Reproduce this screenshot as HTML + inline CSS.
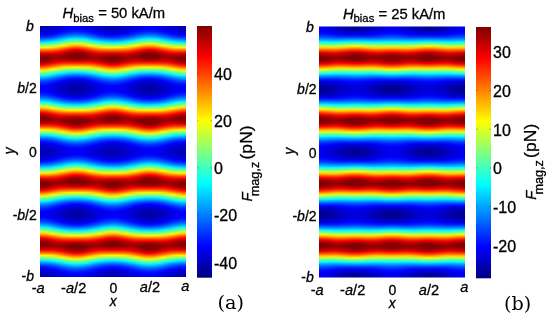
<!DOCTYPE html>
<html><head><meta charset="utf-8"><title>Magnetic force maps</title>
<style>html,body{margin:0;padding:0;background:#fff}svg{display:block}</style></head>
<body>
<svg width="550" height="320" viewBox="0 0 550 320">
<defs><clipPath id="cla"><rect x="40" y="26" width="146" height="251"/></clipPath><linearGradient id="a0" gradientUnits="userSpaceOnUse" x1="0" x2="0" y1="151.5" y2="88.75" spreadMethod="reflect"><stop offset="0" stop-color="#0000b5"/><stop offset=".0312" stop-color="#0000b7"/><stop offset=".0625" stop-color="#0000bf"/><stop offset=".0938" stop-color="#0000cd"/><stop offset=".125" stop-color="#0000e5"/><stop offset=".1562" stop-color="#000aff"/><stop offset=".1875" stop-color="#003dff"/><stop offset=".2188" stop-color="#007eff"/><stop offset=".25" stop-color="#00cfff"/><stop offset=".2812" stop-color="#2fffd0"/><stop offset=".3125" stop-color="#97ff68"/><stop offset=".3438" stop-color="#fffa00"/><stop offset=".375" stop-color="#ff8f00"/><stop offset=".4062" stop-color="#ff2e00"/><stop offset=".4375" stop-color="#da0000"/><stop offset=".4688" stop-color="#9e0000"/><stop offset=".5" stop-color="#800000"/><stop offset=".5312" stop-color="#800000"/><stop offset=".5625" stop-color="#8c0000"/><stop offset=".5938" stop-color="#bc0000"/><stop offset=".625" stop-color="#ff0400"/><stop offset=".6562" stop-color="#ff5b00"/><stop offset=".6875" stop-color="#ffbc00"/><stop offset=".7188" stop-color="#deff21"/><stop offset=".75" stop-color="#7bff84"/><stop offset=".7812" stop-color="#1fffe0"/><stop offset=".8125" stop-color="#00ceff"/><stop offset=".8438" stop-color="#008aff"/><stop offset=".875" stop-color="#0053ff"/><stop offset=".9062" stop-color="#002aff"/><stop offset=".9375" stop-color="#000eff"/><stop offset=".9688" stop-color="#0000fd"/><stop offset="1" stop-color="#0000f7"/></linearGradient><linearGradient id="a1" gradientUnits="userSpaceOnUse" x1="0" x2="0" y1="151.5" y2="88.75" spreadMethod="reflect"><stop offset="0" stop-color="#0000b5"/><stop offset=".0312" stop-color="#0000b7"/><stop offset=".0625" stop-color="#0000bf"/><stop offset=".0938" stop-color="#0000ce"/><stop offset=".125" stop-color="#0000e6"/><stop offset=".1562" stop-color="#000bff"/><stop offset=".1875" stop-color="#003dff"/><stop offset=".2188" stop-color="#007fff"/><stop offset=".25" stop-color="#00d0ff"/><stop offset=".2812" stop-color="#2fffd0"/><stop offset=".3125" stop-color="#97ff68"/><stop offset=".3438" stop-color="#fffa00"/><stop offset=".375" stop-color="#ff8f00"/><stop offset=".4062" stop-color="#ff2e00"/><stop offset=".4375" stop-color="#db0000"/><stop offset=".4688" stop-color="#9e0000"/><stop offset=".5" stop-color="#800000"/><stop offset=".5312" stop-color="#800000"/><stop offset=".5625" stop-color="#8d0000"/><stop offset=".5938" stop-color="#bd0000"/><stop offset=".625" stop-color="#ff0500"/><stop offset=".6562" stop-color="#ff5c00"/><stop offset=".6875" stop-color="#ffbd00"/><stop offset=".7188" stop-color="#df2"/><stop offset=".75" stop-color="#7aff85"/><stop offset=".7812" stop-color="#1fffe0"/><stop offset=".8125" stop-color="#00cdff"/><stop offset=".8438" stop-color="#0089ff"/><stop offset=".875" stop-color="#0053ff"/><stop offset=".9062" stop-color="#002aff"/><stop offset=".9375" stop-color="#000eff"/><stop offset=".9688" stop-color="#0000fc"/><stop offset="1" stop-color="#0000f7"/></linearGradient><linearGradient id="a2" gradientUnits="userSpaceOnUse" x1="0" x2="0" y1="151.5" y2="88.75" spreadMethod="reflect"><stop offset="0" stop-color="#0000b5"/><stop offset=".0312" stop-color="#0000b8"/><stop offset=".0625" stop-color="#0000c0"/><stop offset=".0938" stop-color="#0000ce"/><stop offset=".125" stop-color="#0000e6"/><stop offset=".1562" stop-color="#000bff"/><stop offset=".1875" stop-color="#003eff"/><stop offset=".2188" stop-color="#007fff"/><stop offset=".25" stop-color="#00d0ff"/><stop offset=".2812" stop-color="#30ffcf"/><stop offset=".3125" stop-color="#98ff67"/><stop offset=".3438" stop-color="#fffa00"/><stop offset=".375" stop-color="#ff8f00"/><stop offset=".4062" stop-color="#ff2e00"/><stop offset=".4375" stop-color="#db0000"/><stop offset=".4688" stop-color="#9f0000"/><stop offset=".5" stop-color="#800000"/><stop offset=".5312" stop-color="#800000"/><stop offset=".5625" stop-color="#8e0000"/><stop offset=".5938" stop-color="#bf0000"/><stop offset=".625" stop-color="#ff0700"/><stop offset=".6562" stop-color="#ff5e00"/><stop offset=".6875" stop-color="#ffbf00"/><stop offset=".7188" stop-color="#dbff24"/><stop offset=".75" stop-color="#78ff87"/><stop offset=".7812" stop-color="#1dffe2"/><stop offset=".8125" stop-color="#00cbff"/><stop offset=".8438" stop-color="#08f"/><stop offset=".875" stop-color="#0052ff"/><stop offset=".9062" stop-color="#0029ff"/><stop offset=".9375" stop-color="#000dff"/><stop offset=".9688" stop-color="#0000fc"/><stop offset="1" stop-color="#0000f6"/></linearGradient><linearGradient id="a3" gradientUnits="userSpaceOnUse" x1="0" x2="0" y1="151.5" y2="88.75" spreadMethod="reflect"><stop offset="0" stop-color="#0000b6"/><stop offset=".0312" stop-color="#0000b8"/><stop offset=".0625" stop-color="#0000c0"/><stop offset=".0938" stop-color="#0000cf"/><stop offset=".125" stop-color="#0000e7"/><stop offset=".1562" stop-color="#000cff"/><stop offset=".1875" stop-color="#003fff"/><stop offset=".2188" stop-color="#0081ff"/><stop offset=".25" stop-color="#00d2ff"/><stop offset=".2812" stop-color="#31ffce"/><stop offset=".3125" stop-color="#9f6"/><stop offset=".3438" stop-color="#fff900"/><stop offset=".375" stop-color="#ff8f00"/><stop offset=".4062" stop-color="#ff2e00"/><stop offset=".4375" stop-color="#dc0000"/><stop offset=".4688" stop-color="#a00000"/><stop offset=".5" stop-color="#800000"/><stop offset=".5312" stop-color="#800000"/><stop offset=".5625" stop-color="#910000"/><stop offset=".5938" stop-color="#c20000"/><stop offset=".625" stop-color="#ff0900"/><stop offset=".6562" stop-color="#ff6100"/><stop offset=".6875" stop-color="#ffc200"/><stop offset=".7188" stop-color="#d8ff27"/><stop offset=".75" stop-color="#75ff8a"/><stop offset=".7812" stop-color="#1affe5"/><stop offset=".8125" stop-color="#00c9ff"/><stop offset=".8438" stop-color="#0086ff"/><stop offset=".875" stop-color="#0050ff"/><stop offset=".9062" stop-color="#0028ff"/><stop offset=".9375" stop-color="#000cff"/><stop offset=".9688" stop-color="#0000fb"/><stop offset="1" stop-color="#0000f5"/></linearGradient><linearGradient id="a4" gradientUnits="userSpaceOnUse" x1="0" x2="0" y1="151.5" y2="88.75" spreadMethod="reflect"><stop offset="0" stop-color="#0000b7"/><stop offset=".0312" stop-color="#0000b9"/><stop offset=".0625" stop-color="#0000c1"/><stop offset=".0938" stop-color="#0000d0"/><stop offset=".125" stop-color="#0000e8"/><stop offset=".1562" stop-color="#000eff"/><stop offset=".1875" stop-color="#0040ff"/><stop offset=".2188" stop-color="#0082ff"/><stop offset=".25" stop-color="#00d3ff"/><stop offset=".2812" stop-color="#32ffcd"/><stop offset=".3125" stop-color="#9aff65"/><stop offset=".3438" stop-color="#fff800"/><stop offset=".375" stop-color="#ff8e00"/><stop offset=".4062" stop-color="#ff2e00"/><stop offset=".4375" stop-color="#dc0000"/><stop offset=".4688" stop-color="#a20000"/><stop offset=".5" stop-color="#810000"/><stop offset=".5312" stop-color="#800000"/><stop offset=".5625" stop-color="#940000"/><stop offset=".5938" stop-color="#c50000"/><stop offset=".625" stop-color="#ff0d00"/><stop offset=".6562" stop-color="#ff6400"/><stop offset=".6875" stop-color="#ffc600"/><stop offset=".7188" stop-color="#d4ff2b"/><stop offset=".75" stop-color="#72ff8d"/><stop offset=".7812" stop-color="#17ffe8"/><stop offset=".8125" stop-color="#00c6ff"/><stop offset=".8438" stop-color="#0083ff"/><stop offset=".875" stop-color="#004eff"/><stop offset=".9062" stop-color="#0026ff"/><stop offset=".9375" stop-color="#000bff"/><stop offset=".9688" stop-color="#0000fa"/><stop offset="1" stop-color="#0000f4"/></linearGradient><linearGradient id="a5" gradientUnits="userSpaceOnUse" x1="0" x2="0" y1="151.5" y2="88.75" spreadMethod="reflect"><stop offset="0" stop-color="#0000b8"/><stop offset=".0312" stop-color="#00b"/><stop offset=".0625" stop-color="#0000c2"/><stop offset=".0938" stop-color="#0000d2"/><stop offset=".125" stop-color="#0000ea"/><stop offset=".1562" stop-color="#000fff"/><stop offset=".1875" stop-color="#0042ff"/><stop offset=".2188" stop-color="#0084ff"/><stop offset=".25" stop-color="#00d5ff"/><stop offset=".2812" stop-color="#34ffcb"/><stop offset=".3125" stop-color="#9bff64"/><stop offset=".3438" stop-color="#fff700"/><stop offset=".375" stop-color="#ff8e00"/><stop offset=".4062" stop-color="#ff2e00"/><stop offset=".4375" stop-color="#d00"/><stop offset=".4688" stop-color="#a30000"/><stop offset=".5" stop-color="#830000"/><stop offset=".5312" stop-color="#800000"/><stop offset=".5625" stop-color="#970000"/><stop offset=".5938" stop-color="#c90000"/><stop offset=".625" stop-color="#ff1200"/><stop offset=".6562" stop-color="#ff6900"/><stop offset=".6875" stop-color="#ffca00"/><stop offset=".7188" stop-color="#cfff30"/><stop offset=".75" stop-color="#6eff91"/><stop offset=".7812" stop-color="#13ffec"/><stop offset=".8125" stop-color="#00c3ff"/><stop offset=".8438" stop-color="#0080ff"/><stop offset=".875" stop-color="#004bff"/><stop offset=".9062" stop-color="#0024ff"/><stop offset=".9375" stop-color="#0009ff"/><stop offset=".9688" stop-color="#0000f8"/><stop offset="1" stop-color="#0000f3"/></linearGradient><linearGradient id="a6" gradientUnits="userSpaceOnUse" x1="0" x2="0" y1="151.5" y2="88.75" spreadMethod="reflect"><stop offset="0" stop-color="#0000b9"/><stop offset=".0312" stop-color="#0000bc"/><stop offset=".0625" stop-color="#0000c4"/><stop offset=".0938" stop-color="#0000d3"/><stop offset=".125" stop-color="#0000ec"/><stop offset=".1562" stop-color="#0012ff"/><stop offset=".1875" stop-color="#04f"/><stop offset=".2188" stop-color="#0086ff"/><stop offset=".25" stop-color="#00d7ff"/><stop offset=".2812" stop-color="#36ffc9"/><stop offset=".3125" stop-color="#9dff62"/><stop offset=".3438" stop-color="#fff600"/><stop offset=".375" stop-color="#ff8d00"/><stop offset=".4062" stop-color="#ff2e00"/><stop offset=".4375" stop-color="#de0000"/><stop offset=".4688" stop-color="#a50000"/><stop offset=".5" stop-color="#860000"/><stop offset=".5312" stop-color="#830000"/><stop offset=".5625" stop-color="#9c0000"/><stop offset=".5938" stop-color="#ce0000"/><stop offset=".625" stop-color="#ff1700"/><stop offset=".6562" stop-color="#ff6f00"/><stop offset=".6875" stop-color="#ffd000"/><stop offset=".7188" stop-color="#caff35"/><stop offset=".75" stop-color="#68ff97"/><stop offset=".7812" stop-color="#0ffff0"/><stop offset=".8125" stop-color="#00bfff"/><stop offset=".8438" stop-color="#007dff"/><stop offset=".875" stop-color="#0049ff"/><stop offset=".9062" stop-color="#0021ff"/><stop offset=".9375" stop-color="#0007ff"/><stop offset=".9688" stop-color="#0000f6"/><stop offset="1" stop-color="#0000f1"/></linearGradient><linearGradient id="a7" gradientUnits="userSpaceOnUse" x1="0" x2="0" y1="151.5" y2="88.75" spreadMethod="reflect"><stop offset="0" stop-color="#00b"/><stop offset=".0312" stop-color="#0000bd"/><stop offset=".0625" stop-color="#0000c6"/><stop offset=".0938" stop-color="#0000d5"/><stop offset=".125" stop-color="#00e"/><stop offset=".1562" stop-color="#0014ff"/><stop offset=".1875" stop-color="#0047ff"/><stop offset=".2188" stop-color="#0089ff"/><stop offset=".25" stop-color="#00daff"/><stop offset=".2812" stop-color="#39ffc6"/><stop offset=".3125" stop-color="#9fff60"/><stop offset=".3438" stop-color="#fff400"/><stop offset=".375" stop-color="#ff8c00"/><stop offset=".4062" stop-color="#ff2e00"/><stop offset=".4375" stop-color="#df0000"/><stop offset=".4688" stop-color="#a70000"/><stop offset=".5" stop-color="#890000"/><stop offset=".5312" stop-color="#860000"/><stop offset=".5625" stop-color="#a00000"/><stop offset=".5938" stop-color="#d30000"/><stop offset=".625" stop-color="#ff1d00"/><stop offset=".6562" stop-color="#ff7500"/><stop offset=".6875" stop-color="#ffd600"/><stop offset=".7188" stop-color="#c4ff3b"/><stop offset=".75" stop-color="#63ff9c"/><stop offset=".7812" stop-color="#09fff6"/><stop offset=".8125" stop-color="#00baff"/><stop offset=".8438" stop-color="#0079ff"/><stop offset=".875" stop-color="#0045ff"/><stop offset=".9062" stop-color="#001fff"/><stop offset=".9375" stop-color="#0004ff"/><stop offset=".9688" stop-color="#0000f4"/><stop offset="1" stop-color="#0000ef"/></linearGradient><linearGradient id="a8" gradientUnits="userSpaceOnUse" x1="0" x2="0" y1="151.5" y2="88.75" spreadMethod="reflect"><stop offset="0" stop-color="#0000bd"/><stop offset=".0312" stop-color="#0000bf"/><stop offset=".0625" stop-color="#0000c7"/><stop offset=".0938" stop-color="#0000d7"/><stop offset=".125" stop-color="#0000f0"/><stop offset=".1562" stop-color="#0017ff"/><stop offset=".1875" stop-color="#004aff"/><stop offset=".2188" stop-color="#008cff"/><stop offset=".25" stop-color="#0df"/><stop offset=".2812" stop-color="#3cffc3"/><stop offset=".3125" stop-color="#a2ff5d"/><stop offset=".3438" stop-color="#fff200"/><stop offset=".375" stop-color="#ff8b00"/><stop offset=".4062" stop-color="#ff2e00"/><stop offset=".4375" stop-color="#e00000"/><stop offset=".4688" stop-color="#a80000"/><stop offset=".5" stop-color="#8b0000"/><stop offset=".5312" stop-color="#8a0000"/><stop offset=".5625" stop-color="#a50000"/><stop offset=".5938" stop-color="#d90000"/><stop offset=".625" stop-color="#ff2300"/><stop offset=".6562" stop-color="#ff7c00"/><stop offset=".6875" stop-color="#fd0"/><stop offset=".7188" stop-color="#bdff42"/><stop offset=".75" stop-color="#5cffa3"/><stop offset=".7812" stop-color="#04fffb"/><stop offset=".8125" stop-color="#00b5ff"/><stop offset=".8438" stop-color="#0074ff"/><stop offset=".875" stop-color="#0041ff"/><stop offset=".9062" stop-color="#001cff"/><stop offset=".9375" stop-color="#0002ff"/><stop offset=".9688" stop-color="#0000f2"/><stop offset="1" stop-color="#0000ed"/></linearGradient><linearGradient id="a9" gradientUnits="userSpaceOnUse" x1="0" x2="0" y1="151.5" y2="88.75" spreadMethod="reflect"><stop offset="0" stop-color="#0000be"/><stop offset=".0312" stop-color="#0000c1"/><stop offset=".0625" stop-color="#0000ca"/><stop offset=".0938" stop-color="#0000da"/><stop offset=".125" stop-color="#0000f3"/><stop offset=".1562" stop-color="#001aff"/><stop offset=".1875" stop-color="#004dff"/><stop offset=".2188" stop-color="#0090ff"/><stop offset=".25" stop-color="#00e1ff"/><stop offset=".2812" stop-color="#3fffc0"/><stop offset=".3125" stop-color="#a5ff5a"/><stop offset=".3438" stop-color="#fff000"/><stop offset=".375" stop-color="#ff8900"/><stop offset=".4062" stop-color="#ff2d00"/><stop offset=".4375" stop-color="#e00000"/><stop offset=".4688" stop-color="#a00"/><stop offset=".5" stop-color="#8e0000"/><stop offset=".5312" stop-color="#8f0000"/><stop offset=".5625" stop-color="#a00"/><stop offset=".5938" stop-color="#df0000"/><stop offset=".625" stop-color="#ff2a00"/><stop offset=".6562" stop-color="#ff8300"/><stop offset=".6875" stop-color="#ffe400"/><stop offset=".7188" stop-color="#b6ff49"/><stop offset=".75" stop-color="#56ffa9"/><stop offset=".7812" stop-color="#00fcff"/><stop offset=".8125" stop-color="#00afff"/><stop offset=".8438" stop-color="#0070ff"/><stop offset=".875" stop-color="#003dff"/><stop offset=".9062" stop-color="#0018ff"/><stop offset=".9375" stop-color="#0000fe"/><stop offset=".9688" stop-color="#0000ef"/><stop offset="1" stop-color="#0000eb"/></linearGradient><linearGradient id="a10" gradientUnits="userSpaceOnUse" x1="0" x2="0" y1="151.5" y2="88.75" spreadMethod="reflect"><stop offset="0" stop-color="#0000c0"/><stop offset=".0312" stop-color="#0000c3"/><stop offset=".0625" stop-color="#00c"/><stop offset=".0938" stop-color="#0000dc"/><stop offset=".125" stop-color="#0000f6"/><stop offset=".1562" stop-color="#001dff"/><stop offset=".1875" stop-color="#0051ff"/><stop offset=".2188" stop-color="#0094ff"/><stop offset=".25" stop-color="#00e5ff"/><stop offset=".2812" stop-color="#43ffbc"/><stop offset=".3125" stop-color="#a9ff56"/><stop offset=".3438" stop-color="#ffed00"/><stop offset=".375" stop-color="#ff8700"/><stop offset=".4062" stop-color="#ff2c00"/><stop offset=".4375" stop-color="#e00000"/><stop offset=".4688" stop-color="#ac0000"/><stop offset=".5" stop-color="#910000"/><stop offset=".5312" stop-color="#930000"/><stop offset=".5625" stop-color="#b00000"/><stop offset=".5938" stop-color="#e60000"/><stop offset=".625" stop-color="#ff3100"/><stop offset=".6562" stop-color="#ff8b00"/><stop offset=".6875" stop-color="#ffec00"/><stop offset=".7188" stop-color="#aeff51"/><stop offset=".75" stop-color="#4effb1"/><stop offset=".7812" stop-color="#00f6ff"/><stop offset=".8125" stop-color="#00a9ff"/><stop offset=".8438" stop-color="#006aff"/><stop offset=".875" stop-color="#0039ff"/><stop offset=".9062" stop-color="#0015ff"/><stop offset=".9375" stop-color="#0000fb"/><stop offset=".9688" stop-color="#0000ed"/><stop offset="1" stop-color="#0000e8"/></linearGradient><linearGradient id="a11" gradientUnits="userSpaceOnUse" x1="0" x2="0" y1="151.5" y2="88.75" spreadMethod="reflect"><stop offset="0" stop-color="#0000c2"/><stop offset=".0312" stop-color="#0000c5"/><stop offset=".0625" stop-color="#0000ce"/><stop offset=".0938" stop-color="#0000df"/><stop offset=".125" stop-color="#0000f9"/><stop offset=".1562" stop-color="#0021ff"/><stop offset=".1875" stop-color="#05f"/><stop offset=".2188" stop-color="#0098ff"/><stop offset=".25" stop-color="#00e9ff"/><stop offset=".2812" stop-color="#47ffb8"/><stop offset=".3125" stop-color="#adff52"/><stop offset=".3438" stop-color="#ffe900"/><stop offset=".375" stop-color="#ff8500"/><stop offset=".4062" stop-color="#ff2a00"/><stop offset=".4375" stop-color="#e00000"/><stop offset=".4688" stop-color="#ad0000"/><stop offset=".5" stop-color="#940000"/><stop offset=".5312" stop-color="#970000"/><stop offset=".5625" stop-color="#b50000"/><stop offset=".5938" stop-color="#ec0000"/><stop offset=".625" stop-color="#ff3900"/><stop offset=".6562" stop-color="#ff9200"/><stop offset=".6875" stop-color="#fff400"/><stop offset=".7188" stop-color="#a6ff59"/><stop offset=".75" stop-color="#47ffb8"/><stop offset=".7812" stop-color="#00efff"/><stop offset=".8125" stop-color="#00a3ff"/><stop offset=".8438" stop-color="#0065ff"/><stop offset=".875" stop-color="#0034ff"/><stop offset=".9062" stop-color="#01f"/><stop offset=".9375" stop-color="#0000f8"/><stop offset=".9688" stop-color="#0000ea"/><stop offset="1" stop-color="#0000e5"/></linearGradient><linearGradient id="a12" gradientUnits="userSpaceOnUse" x1="0" x2="0" y1="151.5" y2="88.75" spreadMethod="reflect"><stop offset="0" stop-color="#0000c5"/><stop offset=".0312" stop-color="#0000c8"/><stop offset=".0625" stop-color="#0000d1"/><stop offset=".0938" stop-color="#0000e2"/><stop offset=".125" stop-color="#0000fd"/><stop offset=".1562" stop-color="#0025ff"/><stop offset=".1875" stop-color="#0059ff"/><stop offset=".2188" stop-color="#009dff"/><stop offset=".25" stop-color="#0ef"/><stop offset=".2812" stop-color="#4cffb3"/><stop offset=".3125" stop-color="#b1ff4e"/><stop offset=".3438" stop-color="#ffe500"/><stop offset=".375" stop-color="#ff8200"/><stop offset=".4062" stop-color="#ff2900"/><stop offset=".4375" stop-color="#e00000"/><stop offset=".4688" stop-color="#ae0000"/><stop offset=".5" stop-color="#970000"/><stop offset=".5312" stop-color="#9b0000"/><stop offset=".5625" stop-color="#b00"/><stop offset=".5938" stop-color="#f30000"/><stop offset=".625" stop-color="#ff4000"/><stop offset=".6562" stop-color="#ff9a00"/><stop offset=".6875" stop-color="#fffc00"/><stop offset=".7188" stop-color="#9eff61"/><stop offset=".75" stop-color="#3fffc0"/><stop offset=".7812" stop-color="#00e7ff"/><stop offset=".8125" stop-color="#009dff"/><stop offset=".8438" stop-color="#005fff"/><stop offset=".875" stop-color="#0030ff"/><stop offset=".9062" stop-color="#000dff"/><stop offset=".9375" stop-color="#0000f4"/><stop offset=".9688" stop-color="#0000e7"/><stop offset="1" stop-color="#0000e2"/></linearGradient><linearGradient id="a13" gradientUnits="userSpaceOnUse" x1="0" x2="0" y1="151.5" y2="88.75" spreadMethod="reflect"><stop offset="0" stop-color="#0000c7"/><stop offset=".0312" stop-color="#0000ca"/><stop offset=".0625" stop-color="#0000d4"/><stop offset=".0938" stop-color="#0000e5"/><stop offset=".125" stop-color="#0001ff"/><stop offset=".1562" stop-color="#0029ff"/><stop offset=".1875" stop-color="#005eff"/><stop offset=".2188" stop-color="#00a2ff"/><stop offset=".25" stop-color="#00f4ff"/><stop offset=".2812" stop-color="#52ffad"/><stop offset=".3125" stop-color="#b6ff49"/><stop offset=".3438" stop-color="#ffe100"/><stop offset=".375" stop-color="#ff7e00"/><stop offset=".4062" stop-color="#ff2600"/><stop offset=".4375" stop-color="#df0000"/><stop offset=".4688" stop-color="#af0000"/><stop offset=".5" stop-color="#900"/><stop offset=".5312" stop-color="#9f0000"/><stop offset=".5625" stop-color="#c00000"/><stop offset=".5938" stop-color="#f90000"/><stop offset=".625" stop-color="#ff4700"/><stop offset=".6562" stop-color="#ffa200"/><stop offset=".6875" stop-color="#f9ff06"/><stop offset=".7188" stop-color="#96ff69"/><stop offset=".75" stop-color="#37ffc8"/><stop offset=".7812" stop-color="#00e0ff"/><stop offset=".8125" stop-color="#0096ff"/><stop offset=".8438" stop-color="#005aff"/><stop offset=".875" stop-color="#002bff"/><stop offset=".9062" stop-color="#0008ff"/><stop offset=".9375" stop-color="#0000f0"/><stop offset=".9688" stop-color="#0000e3"/><stop offset="1" stop-color="#0000df"/></linearGradient><linearGradient id="a14" gradientUnits="userSpaceOnUse" x1="0" x2="0" y1="151.5" y2="88.75" spreadMethod="reflect"><stop offset="0" stop-color="#0000ca"/><stop offset=".0312" stop-color="#0000cd"/><stop offset=".0625" stop-color="#0000d6"/><stop offset=".0938" stop-color="#0000e8"/><stop offset=".125" stop-color="#0005ff"/><stop offset=".1562" stop-color="#002eff"/><stop offset=".1875" stop-color="#0063ff"/><stop offset=".2188" stop-color="#00a8ff"/><stop offset=".25" stop-color="#00f9ff"/><stop offset=".2812" stop-color="#58ffa7"/><stop offset=".3125" stop-color="#bcff43"/><stop offset=".3438" stop-color="#ffdc00"/><stop offset=".375" stop-color="#ff7a00"/><stop offset=".4062" stop-color="#ff2300"/><stop offset=".4375" stop-color="#d00"/><stop offset=".4688" stop-color="#af0000"/><stop offset=".5" stop-color="#9b0000"/><stop offset=".5312" stop-color="#a20000"/><stop offset=".5625" stop-color="#c50000"/><stop offset=".5938" stop-color="#ff0100"/><stop offset=".625" stop-color="#ff4f00"/><stop offset=".6562" stop-color="#fa0"/><stop offset=".6875" stop-color="#f1ff0e"/><stop offset=".7188" stop-color="#8dff72"/><stop offset=".75" stop-color="#2fffd0"/><stop offset=".7812" stop-color="#00d8ff"/><stop offset=".8125" stop-color="#008fff"/><stop offset=".8438" stop-color="#0054ff"/><stop offset=".875" stop-color="#0026ff"/><stop offset=".9062" stop-color="#0004ff"/><stop offset=".9375" stop-color="#0000ed"/><stop offset=".9688" stop-color="#0000e0"/><stop offset="1" stop-color="#0000dc"/></linearGradient><linearGradient id="a15" gradientUnits="userSpaceOnUse" x1="0" x2="0" y1="151.5" y2="88.75" spreadMethod="reflect"><stop offset="0" stop-color="#00c"/><stop offset=".0312" stop-color="#0000cf"/><stop offset=".0625" stop-color="#0000d9"/><stop offset=".0938" stop-color="#0000ec"/><stop offset=".125" stop-color="#000aff"/><stop offset=".1562" stop-color="#0032ff"/><stop offset=".1875" stop-color="#0069ff"/><stop offset=".2188" stop-color="#00aeff"/><stop offset=".25" stop-color="#01fffe"/><stop offset=".2812" stop-color="#5effa1"/><stop offset=".3125" stop-color="#c2ff3d"/><stop offset=".3438" stop-color="#ffd600"/><stop offset=".375" stop-color="#ff7500"/><stop offset=".4062" stop-color="#ff2000"/><stop offset=".4375" stop-color="#db0000"/><stop offset=".4688" stop-color="#ae0000"/><stop offset=".5" stop-color="#9c0000"/><stop offset=".5312" stop-color="#a50000"/><stop offset=".5625" stop-color="#c90000"/><stop offset=".5938" stop-color="#ff0600"/><stop offset=".625" stop-color="#ff5600"/><stop offset=".6562" stop-color="#ffb200"/><stop offset=".6875" stop-color="#e9ff16"/><stop offset=".7188" stop-color="#85ff7a"/><stop offset=".75" stop-color="#27ffd8"/><stop offset=".7812" stop-color="#00d1ff"/><stop offset=".8125" stop-color="#08f"/><stop offset=".8438" stop-color="#004eff"/><stop offset=".875" stop-color="#0020ff"/><stop offset=".9062" stop-color="#00f"/><stop offset=".9375" stop-color="#0000e9"/><stop offset=".9688" stop-color="#00d"/><stop offset="1" stop-color="#0000d9"/></linearGradient><linearGradient id="a16" gradientUnits="userSpaceOnUse" x1="0" x2="0" y1="151.5" y2="88.75" spreadMethod="reflect"><stop offset="0" stop-color="#0000cf"/><stop offset=".0312" stop-color="#0000d2"/><stop offset=".0625" stop-color="#0000dc"/><stop offset=".0938" stop-color="#0000ef"/><stop offset=".125" stop-color="#000eff"/><stop offset=".1562" stop-color="#0037ff"/><stop offset=".1875" stop-color="#006fff"/><stop offset=".2188" stop-color="#00b4ff"/><stop offset=".25" stop-color="#07fff8"/><stop offset=".2812" stop-color="#65ff9a"/><stop offset=".3125" stop-color="#c9ff36"/><stop offset=".3438" stop-color="#ffd000"/><stop offset=".375" stop-color="#ff7000"/><stop offset=".4062" stop-color="#ff1c00"/><stop offset=".4375" stop-color="#d90000"/><stop offset=".4688" stop-color="#ae0000"/><stop offset=".5" stop-color="#9d0000"/><stop offset=".5312" stop-color="#a80000"/><stop offset=".5625" stop-color="#ce0000"/><stop offset=".5938" stop-color="#ff0c00"/><stop offset=".625" stop-color="#ff5c00"/><stop offset=".6562" stop-color="#ffba00"/><stop offset=".6875" stop-color="#e1ff1e"/><stop offset=".7188" stop-color="#7dff82"/><stop offset=".75" stop-color="#1fffe0"/><stop offset=".7812" stop-color="#00c9ff"/><stop offset=".8125" stop-color="#0082ff"/><stop offset=".8438" stop-color="#0048ff"/><stop offset=".875" stop-color="#001bff"/><stop offset=".9062" stop-color="#0000fa"/><stop offset=".9375" stop-color="#0000e5"/><stop offset=".9688" stop-color="#0000d9"/><stop offset="1" stop-color="#0000d5"/></linearGradient><linearGradient id="a17" gradientUnits="userSpaceOnUse" x1="0" x2="0" y1="151.5" y2="88.75" spreadMethod="reflect"><stop offset="0" stop-color="#0000d1"/><stop offset=".0312" stop-color="#0000d5"/><stop offset=".0625" stop-color="#0000e0"/><stop offset=".0938" stop-color="#0000f3"/><stop offset=".125" stop-color="#0012ff"/><stop offset=".1562" stop-color="#003dff"/><stop offset=".1875" stop-color="#0075ff"/><stop offset=".2188" stop-color="#00baff"/><stop offset=".25" stop-color="#0efff1"/><stop offset=".2812" stop-color="#6cff93"/><stop offset=".3125" stop-color="#d0ff2f"/><stop offset=".3438" stop-color="#ffca00"/><stop offset=".375" stop-color="#ff6a00"/><stop offset=".4062" stop-color="#ff1700"/><stop offset=".4375" stop-color="#d60000"/><stop offset=".4688" stop-color="#ac0000"/><stop offset=".5" stop-color="#9d0000"/><stop offset=".5312" stop-color="#a00"/><stop offset=".5625" stop-color="#d10000"/><stop offset=".5938" stop-color="#f10"/><stop offset=".625" stop-color="#ff6300"/><stop offset=".6562" stop-color="#ffc100"/><stop offset=".6875" stop-color="#d9ff26"/><stop offset=".7188" stop-color="#75ff8a"/><stop offset=".75" stop-color="#17ffe8"/><stop offset=".7812" stop-color="#00c2ff"/><stop offset=".8125" stop-color="#007bff"/><stop offset=".8438" stop-color="#0042ff"/><stop offset=".875" stop-color="#0016ff"/><stop offset=".9062" stop-color="#0000f6"/><stop offset=".9375" stop-color="#0000e1"/><stop offset=".9688" stop-color="#0000d6"/><stop offset="1" stop-color="#0000d2"/></linearGradient><linearGradient id="a18" gradientUnits="userSpaceOnUse" x1="0" x2="0" y1="151.5" y2="88.75" spreadMethod="reflect"><stop offset="0" stop-color="#0000d4"/><stop offset=".0312" stop-color="#0000d7"/><stop offset=".0625" stop-color="#0000e3"/><stop offset=".0938" stop-color="#0000f7"/><stop offset=".125" stop-color="#0017ff"/><stop offset=".1562" stop-color="#0042ff"/><stop offset=".1875" stop-color="#007bff"/><stop offset=".2188" stop-color="#00c1ff"/><stop offset=".25" stop-color="#16ffe9"/><stop offset=".2812" stop-color="#74ff8b"/><stop offset=".3125" stop-color="#d7ff28"/><stop offset=".3438" stop-color="#ffc300"/><stop offset=".375" stop-color="#ff6400"/><stop offset=".4062" stop-color="#ff1200"/><stop offset=".4375" stop-color="#d20000"/><stop offset=".4688" stop-color="#a00"/><stop offset=".5" stop-color="#9d0000"/><stop offset=".5312" stop-color="#ab0000"/><stop offset=".5625" stop-color="#d40000"/><stop offset=".5938" stop-color="#ff1600"/><stop offset=".625" stop-color="#ff6900"/><stop offset=".6562" stop-color="#ffc800"/><stop offset=".6875" stop-color="#d1ff2e"/><stop offset=".7188" stop-color="#6dff92"/><stop offset=".75" stop-color="#0ffff0"/><stop offset=".7812" stop-color="#0bf"/><stop offset=".8125" stop-color="#0074ff"/><stop offset=".8438" stop-color="#003cff"/><stop offset=".875" stop-color="#01f"/><stop offset=".9062" stop-color="#0000f1"/><stop offset=".9375" stop-color="#00d"/><stop offset=".9688" stop-color="#0000d2"/><stop offset="1" stop-color="#0000ce"/></linearGradient><linearGradient id="a19" gradientUnits="userSpaceOnUse" x1="0" x2="0" y1="151.5" y2="88.75" spreadMethod="reflect"><stop offset="0" stop-color="#0000d6"/><stop offset=".0312" stop-color="#0000da"/><stop offset=".0625" stop-color="#0000e6"/><stop offset=".0938" stop-color="#0000fb"/><stop offset=".125" stop-color="#001bff"/><stop offset=".1562" stop-color="#0047ff"/><stop offset=".1875" stop-color="#0081ff"/><stop offset=".2188" stop-color="#00c8ff"/><stop offset=".25" stop-color="#1effe1"/><stop offset=".2812" stop-color="#7cff83"/><stop offset=".3125" stop-color="#dfff20"/><stop offset=".3438" stop-color="#fb0"/><stop offset=".375" stop-color="#ff5e00"/><stop offset=".4062" stop-color="#ff0d00"/><stop offset=".4375" stop-color="#ce0000"/><stop offset=".4688" stop-color="#a80000"/><stop offset=".5" stop-color="#9c0000"/><stop offset=".5312" stop-color="#ac0000"/><stop offset=".5625" stop-color="#d70000"/><stop offset=".5938" stop-color="#ff1a00"/><stop offset=".625" stop-color="#ff6e00"/><stop offset=".6562" stop-color="#ffce00"/><stop offset=".6875" stop-color="#caff35"/><stop offset=".7188" stop-color="#6f9"/><stop offset=".75" stop-color="#08fff7"/><stop offset=".7812" stop-color="#00b4ff"/><stop offset=".8125" stop-color="#006eff"/><stop offset=".8438" stop-color="#0036ff"/><stop offset=".875" stop-color="#000cff"/><stop offset=".9062" stop-color="#0000ed"/><stop offset=".9375" stop-color="#0000d9"/><stop offset=".9688" stop-color="#0000cf"/><stop offset="1" stop-color="#0000cb"/></linearGradient><linearGradient id="a20" gradientUnits="userSpaceOnUse" x1="0" x2="0" y1="151.5" y2="88.75" spreadMethod="reflect"><stop offset="0" stop-color="#0000d9"/><stop offset=".0312" stop-color="#00d"/><stop offset=".0625" stop-color="#0000e9"/><stop offset=".0938" stop-color="#00f"/><stop offset=".125" stop-color="#0020ff"/><stop offset=".1562" stop-color="#004dff"/><stop offset=".1875" stop-color="#0087ff"/><stop offset=".2188" stop-color="#00d0ff"/><stop offset=".25" stop-color="#25ffda"/><stop offset=".2812" stop-color="#84ff7b"/><stop offset=".3125" stop-color="#e7ff18"/><stop offset=".3438" stop-color="#ffb300"/><stop offset=".375" stop-color="#ff5600"/><stop offset=".4062" stop-color="#ff0700"/><stop offset=".4375" stop-color="#c90000"/><stop offset=".4688" stop-color="#a40000"/><stop offset=".5" stop-color="#9b0000"/><stop offset=".5312" stop-color="#ad0000"/><stop offset=".5625" stop-color="#d90000"/><stop offset=".5938" stop-color="#ff1e00"/><stop offset=".625" stop-color="#ff7300"/><stop offset=".6562" stop-color="#ffd400"/><stop offset=".6875" stop-color="#c4ff3b"/><stop offset=".7188" stop-color="#5fffa0"/><stop offset=".75" stop-color="#01fffe"/><stop offset=".7812" stop-color="#00adff"/><stop offset=".8125" stop-color="#0068ff"/><stop offset=".8438" stop-color="#0030ff"/><stop offset=".875" stop-color="#0007ff"/><stop offset=".9062" stop-color="#0000e9"/><stop offset=".9375" stop-color="#0000d6"/><stop offset=".9688" stop-color="#0000cb"/><stop offset="1" stop-color="#0000c8"/></linearGradient><linearGradient id="a21" gradientUnits="userSpaceOnUse" x1="0" x2="0" y1="151.5" y2="88.75" spreadMethod="reflect"><stop offset="0" stop-color="#0000dc"/><stop offset=".0312" stop-color="#0000e0"/><stop offset=".0625" stop-color="#0000ec"/><stop offset=".0938" stop-color="#0003ff"/><stop offset=".125" stop-color="#0025ff"/><stop offset=".1562" stop-color="#0052ff"/><stop offset=".1875" stop-color="#008eff"/><stop offset=".2188" stop-color="#00d7ff"/><stop offset=".25" stop-color="#2dffd2"/><stop offset=".2812" stop-color="#8cff73"/><stop offset=".3125" stop-color="#f0ff0f"/><stop offset=".3438" stop-color="#ffab00"/><stop offset=".375" stop-color="#ff4f00"/><stop offset=".4062" stop-color="#f00"/><stop offset=".4375" stop-color="#c40000"/><stop offset=".4688" stop-color="#a10000"/><stop offset=".5" stop-color="#900"/><stop offset=".5312" stop-color="#ad0000"/><stop offset=".5625" stop-color="#db0000"/><stop offset=".5938" stop-color="#ff2100"/><stop offset=".625" stop-color="#f70"/><stop offset=".6562" stop-color="#ffd900"/><stop offset=".6875" stop-color="#beff41"/><stop offset=".7188" stop-color="#59ffa6"/><stop offset=".75" stop-color="#00faff"/><stop offset=".7812" stop-color="#00a7ff"/><stop offset=".8125" stop-color="#0062ff"/><stop offset=".8438" stop-color="#002bff"/><stop offset=".875" stop-color="#0002ff"/><stop offset=".9062" stop-color="#0000e4"/><stop offset=".9375" stop-color="#0000d2"/><stop offset=".9688" stop-color="#0000c8"/><stop offset="1" stop-color="#0000c4"/></linearGradient><linearGradient id="a22" gradientUnits="userSpaceOnUse" x1="0" x2="0" y1="151.5" y2="88.75" spreadMethod="reflect"><stop offset="0" stop-color="#0000de"/><stop offset=".0312" stop-color="#0000e2"/><stop offset=".0625" stop-color="#0000ef"/><stop offset=".0938" stop-color="#0007ff"/><stop offset=".125" stop-color="#0029ff"/><stop offset=".1562" stop-color="#0058ff"/><stop offset=".1875" stop-color="#0094ff"/><stop offset=".2188" stop-color="#00deff"/><stop offset=".25" stop-color="#35ffca"/><stop offset=".2812" stop-color="#95ff6a"/><stop offset=".3125" stop-color="#f8ff07"/><stop offset=".3438" stop-color="#ffa300"/><stop offset=".375" stop-color="#ff4700"/><stop offset=".4062" stop-color="#f90000"/><stop offset=".4375" stop-color="#bf0000"/><stop offset=".4688" stop-color="#9d0000"/><stop offset=".5" stop-color="#960000"/><stop offset=".5312" stop-color="#ac0000"/><stop offset=".5625" stop-color="#dc0000"/><stop offset=".5938" stop-color="#ff2300"/><stop offset=".625" stop-color="#ff7b00"/><stop offset=".6562" stop-color="#ffde00"/><stop offset=".6875" stop-color="#b8ff47"/><stop offset=".7188" stop-color="#53ffac"/><stop offset=".75" stop-color="#00f4ff"/><stop offset=".7812" stop-color="#00a1ff"/><stop offset=".8125" stop-color="#005cff"/><stop offset=".8438" stop-color="#0026ff"/><stop offset=".875" stop-color="#0000fd"/><stop offset=".9062" stop-color="#0000e0"/><stop offset=".9375" stop-color="#0000ce"/><stop offset=".9688" stop-color="#0000c4"/><stop offset="1" stop-color="#0000c1"/></linearGradient><linearGradient id="a23" gradientUnits="userSpaceOnUse" x1="0" x2="0" y1="151.5" y2="88.75" spreadMethod="reflect"><stop offset="0" stop-color="#0000e0"/><stop offset=".0312" stop-color="#0000e5"/><stop offset=".0625" stop-color="#0000f2"/><stop offset=".0938" stop-color="#000bff"/><stop offset=".125" stop-color="#002eff"/><stop offset=".1562" stop-color="#005eff"/><stop offset=".1875" stop-color="#009bff"/><stop offset=".2188" stop-color="#00e6ff"/><stop offset=".25" stop-color="#3dffc2"/><stop offset=".2812" stop-color="#9dff62"/><stop offset=".3125" stop-color="#fffd00"/><stop offset=".3438" stop-color="#ff9a00"/><stop offset=".375" stop-color="#ff3f00"/><stop offset=".4062" stop-color="#f20000"/><stop offset=".4375" stop-color="#b90000"/><stop offset=".4688" stop-color="#900"/><stop offset=".5" stop-color="#940000"/><stop offset=".5312" stop-color="#ab0000"/><stop offset=".5625" stop-color="#dc0000"/><stop offset=".5938" stop-color="#ff2500"/><stop offset=".625" stop-color="#ff7e00"/><stop offset=".6562" stop-color="#ffe300"/><stop offset=".6875" stop-color="#b3ff4c"/><stop offset=".7188" stop-color="#4dffb2"/><stop offset=".75" stop-color="#0ef"/><stop offset=".7812" stop-color="#009cff"/><stop offset=".8125" stop-color="#0057ff"/><stop offset=".8438" stop-color="#0021ff"/><stop offset=".875" stop-color="#0000f8"/><stop offset=".9062" stop-color="#0000dc"/><stop offset=".9375" stop-color="#0000cb"/><stop offset=".9688" stop-color="#0000c1"/><stop offset="1" stop-color="#0000be"/></linearGradient><linearGradient id="a24" gradientUnits="userSpaceOnUse" x1="0" x2="0" y1="151.5" y2="88.75" spreadMethod="reflect"><stop offset="0" stop-color="#0000e3"/><stop offset=".0312" stop-color="#0000e7"/><stop offset=".0625" stop-color="#0000f5"/><stop offset=".0938" stop-color="#000eff"/><stop offset=".125" stop-color="#0032ff"/><stop offset=".1562" stop-color="#0063ff"/><stop offset=".1875" stop-color="#00a1ff"/><stop offset=".2188" stop-color="#00edff"/><stop offset=".25" stop-color="#45ffba"/><stop offset=".2812" stop-color="#a5ff5a"/><stop offset=".3125" stop-color="#fff400"/><stop offset=".3438" stop-color="#ff9200"/><stop offset=".375" stop-color="#ff3700"/><stop offset=".4062" stop-color="#ea0000"/><stop offset=".4375" stop-color="#b30000"/><stop offset=".4688" stop-color="#940000"/><stop offset=".5" stop-color="#910000"/><stop offset=".5312" stop-color="#a90000"/><stop offset=".5625" stop-color="#dc0000"/><stop offset=".5938" stop-color="#ff2700"/><stop offset=".625" stop-color="#ff8100"/><stop offset=".6562" stop-color="#ffe600"/><stop offset=".6875" stop-color="#afff50"/><stop offset=".7188" stop-color="#48ffb7"/><stop offset=".75" stop-color="#00e9ff"/><stop offset=".7812" stop-color="#0096ff"/><stop offset=".8125" stop-color="#0052ff"/><stop offset=".8438" stop-color="#001dff"/><stop offset=".875" stop-color="#0000f4"/><stop offset=".9062" stop-color="#0000d9"/><stop offset=".9375" stop-color="#0000c7"/><stop offset=".9688" stop-color="#0000be"/><stop offset="1" stop-color="#00b"/></linearGradient><linearGradient id="a25" gradientUnits="userSpaceOnUse" x1="0" x2="0" y1="151.5" y2="88.75" spreadMethod="reflect"><stop offset="0" stop-color="#0000e5"/><stop offset=".0312" stop-color="#0000ea"/><stop offset=".0625" stop-color="#0000f8"/><stop offset=".0938" stop-color="#0012ff"/><stop offset=".125" stop-color="#0036ff"/><stop offset=".1562" stop-color="#0068ff"/><stop offset=".1875" stop-color="#00a7ff"/><stop offset=".2188" stop-color="#00f4ff"/><stop offset=".25" stop-color="#4dffb2"/><stop offset=".2812" stop-color="#aeff51"/><stop offset=".3125" stop-color="#ffec00"/><stop offset=".3438" stop-color="#ff8a00"/><stop offset=".375" stop-color="#ff3000"/><stop offset=".4062" stop-color="#e30000"/><stop offset=".4375" stop-color="#ad0000"/><stop offset=".4688" stop-color="#8f0000"/><stop offset=".5" stop-color="#8d0000"/><stop offset=".5312" stop-color="#a70000"/><stop offset=".5625" stop-color="#dc0000"/><stop offset=".5938" stop-color="#ff2800"/><stop offset=".625" stop-color="#ff8300"/><stop offset=".6562" stop-color="#ffea00"/><stop offset=".6875" stop-color="#abff54"/><stop offset=".7188" stop-color="#4fb"/><stop offset=".75" stop-color="#00e4ff"/><stop offset=".7812" stop-color="#0092ff"/><stop offset=".8125" stop-color="#004eff"/><stop offset=".8438" stop-color="#0018ff"/><stop offset=".875" stop-color="#0000f0"/><stop offset=".9062" stop-color="#0000d5"/><stop offset=".9375" stop-color="#0000c4"/><stop offset=".9688" stop-color="#00b"/><stop offset="1" stop-color="#0000b8"/></linearGradient><linearGradient id="a26" gradientUnits="userSpaceOnUse" x1="0" x2="0" y1="151.5" y2="88.75" spreadMethod="reflect"><stop offset="0" stop-color="#0000e7"/><stop offset=".0312" stop-color="#0000ec"/><stop offset=".0625" stop-color="#0000fa"/><stop offset=".0938" stop-color="#0015ff"/><stop offset=".125" stop-color="#003aff"/><stop offset=".1562" stop-color="#006dff"/><stop offset=".1875" stop-color="#00adff"/><stop offset=".2188" stop-color="#00fbff"/><stop offset=".25" stop-color="#5fa"/><stop offset=".2812" stop-color="#b6ff49"/><stop offset=".3125" stop-color="#ffe400"/><stop offset=".3438" stop-color="#ff8100"/><stop offset=".375" stop-color="#ff2800"/><stop offset=".4062" stop-color="#dc0000"/><stop offset=".4375" stop-color="#a70000"/><stop offset=".4688" stop-color="#8a0000"/><stop offset=".5" stop-color="#8a0000"/><stop offset=".5312" stop-color="#a50000"/><stop offset=".5625" stop-color="#db0000"/><stop offset=".5938" stop-color="#ff2800"/><stop offset=".625" stop-color="#ff8500"/><stop offset=".6562" stop-color="#ffec00"/><stop offset=".6875" stop-color="#a7ff58"/><stop offset=".7188" stop-color="#40ffbf"/><stop offset=".75" stop-color="#00e0ff"/><stop offset=".7812" stop-color="#008dff"/><stop offset=".8125" stop-color="#0049ff"/><stop offset=".8438" stop-color="#0015ff"/><stop offset=".875" stop-color="#0000ed"/><stop offset=".9062" stop-color="#0000d2"/><stop offset=".9375" stop-color="#0000c1"/><stop offset=".9688" stop-color="#0000b8"/><stop offset="1" stop-color="#0000b5"/></linearGradient><linearGradient id="a27" gradientUnits="userSpaceOnUse" x1="0" x2="0" y1="151.5" y2="88.75" spreadMethod="reflect"><stop offset="0" stop-color="#0000e9"/><stop offset=".0312" stop-color="#00e"/><stop offset=".0625" stop-color="#0000fd"/><stop offset=".0938" stop-color="#0018ff"/><stop offset=".125" stop-color="#003eff"/><stop offset=".1562" stop-color="#0072ff"/><stop offset=".1875" stop-color="#00b3ff"/><stop offset=".2188" stop-color="#02fffd"/><stop offset=".25" stop-color="#5cffa3"/><stop offset=".2812" stop-color="#bdff42"/><stop offset=".3125" stop-color="#ffdc00"/><stop offset=".3438" stop-color="#ff7a00"/><stop offset=".375" stop-color="#ff2000"/><stop offset=".4062" stop-color="#d60000"/><stop offset=".4375" stop-color="#a10000"/><stop offset=".4688" stop-color="#850000"/><stop offset=".5" stop-color="#860000"/><stop offset=".5312" stop-color="#a30000"/><stop offset=".5625" stop-color="#da0000"/><stop offset=".5938" stop-color="#ff2900"/><stop offset=".625" stop-color="#ff8700"/><stop offset=".6562" stop-color="#ffef00"/><stop offset=".6875" stop-color="#a4ff5b"/><stop offset=".7188" stop-color="#3cffc3"/><stop offset=".75" stop-color="#00dcff"/><stop offset=".7812" stop-color="#008aff"/><stop offset=".8125" stop-color="#0046ff"/><stop offset=".8438" stop-color="#01f"/><stop offset=".875" stop-color="#0000e9"/><stop offset=".9062" stop-color="#0000cf"/><stop offset=".9375" stop-color="#0000be"/><stop offset=".9688" stop-color="#0000b6"/><stop offset="1" stop-color="#0000b3"/></linearGradient><linearGradient id="a28" gradientUnits="userSpaceOnUse" x1="0" x2="0" y1="151.5" y2="88.75" spreadMethod="reflect"><stop offset="0" stop-color="#0000eb"/><stop offset=".0312" stop-color="#0000f0"/><stop offset=".0625" stop-color="#00f"/><stop offset=".0938" stop-color="#001bff"/><stop offset=".125" stop-color="#0042ff"/><stop offset=".1562" stop-color="#0076ff"/><stop offset=".1875" stop-color="#00b8ff"/><stop offset=".2188" stop-color="#08fff7"/><stop offset=".25" stop-color="#62ff9d"/><stop offset=".2812" stop-color="#c4ff3b"/><stop offset=".3125" stop-color="#ffd500"/><stop offset=".3438" stop-color="#ff7200"/><stop offset=".375" stop-color="#ff1900"/><stop offset=".4062" stop-color="#cf0000"/><stop offset=".4375" stop-color="#9b0000"/><stop offset=".4688" stop-color="#810000"/><stop offset=".5" stop-color="#830000"/><stop offset=".5312" stop-color="#a10000"/><stop offset=".5625" stop-color="#d90000"/><stop offset=".5938" stop-color="#ff2900"/><stop offset=".625" stop-color="#f80"/><stop offset=".6562" stop-color="#fff100"/><stop offset=".6875" stop-color="#a1ff5e"/><stop offset=".7188" stop-color="#39ffc6"/><stop offset=".75" stop-color="#00d9ff"/><stop offset=".7812" stop-color="#0086ff"/><stop offset=".8125" stop-color="#0042ff"/><stop offset=".8438" stop-color="#000eff"/><stop offset=".875" stop-color="#0000e6"/><stop offset=".9062" stop-color="#00c"/><stop offset=".9375" stop-color="#0000bc"/><stop offset=".9688" stop-color="#0000b3"/><stop offset="1" stop-color="#0000b1"/></linearGradient><linearGradient id="a29" gradientUnits="userSpaceOnUse" x1="0" x2="0" y1="151.5" y2="88.75" spreadMethod="reflect"><stop offset="0" stop-color="#0000ec"/><stop offset=".0312" stop-color="#0000f1"/><stop offset=".0625" stop-color="#0002ff"/><stop offset=".0938" stop-color="#001dff"/><stop offset=".125" stop-color="#0045ff"/><stop offset=".1562" stop-color="#007aff"/><stop offset=".1875" stop-color="#00bdff"/><stop offset=".2188" stop-color="#0dfff2"/><stop offset=".25" stop-color="#68ff97"/><stop offset=".2812" stop-color="#cbff34"/><stop offset=".3125" stop-color="#ffce00"/><stop offset=".3438" stop-color="#ff6c00"/><stop offset=".375" stop-color="#ff1300"/><stop offset=".4062" stop-color="#c90000"/><stop offset=".4375" stop-color="#960000"/><stop offset=".4688" stop-color="#800000"/><stop offset=".5" stop-color="#800000"/><stop offset=".5312" stop-color="#9e0000"/><stop offset=".5625" stop-color="#d80000"/><stop offset=".5938" stop-color="#ff2900"/><stop offset=".625" stop-color="#ff8900"/><stop offset=".6562" stop-color="#fff200"/><stop offset=".6875" stop-color="#9fff60"/><stop offset=".7188" stop-color="#36ffc9"/><stop offset=".75" stop-color="#00d6ff"/><stop offset=".7812" stop-color="#0083ff"/><stop offset=".8125" stop-color="#003fff"/><stop offset=".8438" stop-color="#000bff"/><stop offset=".875" stop-color="#0000e4"/><stop offset=".9062" stop-color="#0000ca"/><stop offset=".9375" stop-color="#0000ba"/><stop offset=".9688" stop-color="#0000b1"/><stop offset="1" stop-color="#0000ae"/></linearGradient><linearGradient id="a30" gradientUnits="userSpaceOnUse" x1="0" x2="0" y1="151.5" y2="88.75" spreadMethod="reflect"><stop offset="0" stop-color="#00e"/><stop offset=".0312" stop-color="#0000f3"/><stop offset=".0625" stop-color="#0004ff"/><stop offset=".0938" stop-color="#0020ff"/><stop offset=".125" stop-color="#0048ff"/><stop offset=".1562" stop-color="#007dff"/><stop offset=".1875" stop-color="#00c1ff"/><stop offset=".2188" stop-color="#12ffed"/><stop offset=".25" stop-color="#6eff91"/><stop offset=".2812" stop-color="#d1ff2e"/><stop offset=".3125" stop-color="#ffc800"/><stop offset=".3438" stop-color="#ff6500"/><stop offset=".375" stop-color="#ff0d00"/><stop offset=".4062" stop-color="#c40000"/><stop offset=".4375" stop-color="#910000"/><stop offset=".4688" stop-color="#800000"/><stop offset=".5" stop-color="#800000"/><stop offset=".5312" stop-color="#9c0000"/><stop offset=".5625" stop-color="#d70000"/><stop offset=".5938" stop-color="#ff2800"/><stop offset=".625" stop-color="#ff8900"/><stop offset=".6562" stop-color="#fff400"/><stop offset=".6875" stop-color="#9dff62"/><stop offset=".7188" stop-color="#34ffcb"/><stop offset=".75" stop-color="#00d3ff"/><stop offset=".7812" stop-color="#0080ff"/><stop offset=".8125" stop-color="#003dff"/><stop offset=".8438" stop-color="#0009ff"/><stop offset=".875" stop-color="#0000e2"/><stop offset=".9062" stop-color="#0000c8"/><stop offset=".9375" stop-color="#0000b8"/><stop offset=".9688" stop-color="#0000af"/><stop offset="1" stop-color="#0000ad"/></linearGradient><linearGradient id="a31" gradientUnits="userSpaceOnUse" x1="0" x2="0" y1="151.5" y2="88.75" spreadMethod="reflect"><stop offset="0" stop-color="#0000ef"/><stop offset=".0312" stop-color="#0000f4"/><stop offset=".0625" stop-color="#0005ff"/><stop offset=".0938" stop-color="#0021ff"/><stop offset=".125" stop-color="#004aff"/><stop offset=".1562" stop-color="#0080ff"/><stop offset=".1875" stop-color="#00c5ff"/><stop offset=".2188" stop-color="#17ffe8"/><stop offset=".25" stop-color="#73ff8c"/><stop offset=".2812" stop-color="#d6ff29"/><stop offset=".3125" stop-color="#ffc200"/><stop offset=".3438" stop-color="#ff6000"/><stop offset=".375" stop-color="#ff0800"/><stop offset=".4062" stop-color="#bf0000"/><stop offset=".4375" stop-color="#8d0000"/><stop offset=".4688" stop-color="#800000"/><stop offset=".5" stop-color="#800000"/><stop offset=".5312" stop-color="#9a0000"/><stop offset=".5625" stop-color="#d60000"/><stop offset=".5938" stop-color="#ff2800"/><stop offset=".625" stop-color="#ff8a00"/><stop offset=".6562" stop-color="#fff500"/><stop offset=".6875" stop-color="#9cff63"/><stop offset=".7188" stop-color="#32ffcd"/><stop offset=".75" stop-color="#00d1ff"/><stop offset=".7812" stop-color="#007eff"/><stop offset=".8125" stop-color="#003bff"/><stop offset=".8438" stop-color="#0006ff"/><stop offset=".875" stop-color="#0000e0"/><stop offset=".9062" stop-color="#0000c6"/><stop offset=".9375" stop-color="#0000b6"/><stop offset=".9688" stop-color="#0000ae"/><stop offset="1" stop-color="#0000ab"/></linearGradient><linearGradient id="a32" gradientUnits="userSpaceOnUse" x1="0" x2="0" y1="151.5" y2="88.75" spreadMethod="reflect"><stop offset="0" stop-color="#0000f0"/><stop offset=".0312" stop-color="#0000f5"/><stop offset=".0625" stop-color="#0007ff"/><stop offset=".0938" stop-color="#0023ff"/><stop offset=".125" stop-color="#004cff"/><stop offset=".1562" stop-color="#0083ff"/><stop offset=".1875" stop-color="#00c8ff"/><stop offset=".2188" stop-color="#1affe5"/><stop offset=".25" stop-color="#76ff89"/><stop offset=".2812" stop-color="#daff25"/><stop offset=".3125" stop-color="#ffbe00"/><stop offset=".3438" stop-color="#ff5c00"/><stop offset=".375" stop-color="#ff0300"/><stop offset=".4062" stop-color="#b00"/><stop offset=".4375" stop-color="#890000"/><stop offset=".4688" stop-color="#800000"/><stop offset=".5" stop-color="#800000"/><stop offset=".5312" stop-color="#980000"/><stop offset=".5625" stop-color="#d50000"/><stop offset=".5938" stop-color="#ff2800"/><stop offset=".625" stop-color="#ff8a00"/><stop offset=".6562" stop-color="#fff500"/><stop offset=".6875" stop-color="#9bff64"/><stop offset=".7188" stop-color="#31ffce"/><stop offset=".75" stop-color="#00d0ff"/><stop offset=".7812" stop-color="#007dff"/><stop offset=".8125" stop-color="#0039ff"/><stop offset=".8438" stop-color="#0005ff"/><stop offset=".875" stop-color="#0000de"/><stop offset=".9062" stop-color="#0000c5"/><stop offset=".9375" stop-color="#0000b5"/><stop offset=".9688" stop-color="#0000ac"/><stop offset="1" stop-color="#00a"/></linearGradient><linearGradient id="a33" gradientUnits="userSpaceOnUse" x1="0" x2="0" y1="151.5" y2="88.75" spreadMethod="reflect"><stop offset="0" stop-color="#0000f1"/><stop offset=".0312" stop-color="#0000f6"/><stop offset=".0625" stop-color="#0008ff"/><stop offset=".0938" stop-color="#0024ff"/><stop offset=".125" stop-color="#004eff"/><stop offset=".1562" stop-color="#0085ff"/><stop offset=".1875" stop-color="#00caff"/><stop offset=".2188" stop-color="#1dffe2"/><stop offset=".25" stop-color="#7aff85"/><stop offset=".2812" stop-color="#df2"/><stop offset=".3125" stop-color="#ffba00"/><stop offset=".3438" stop-color="#ff5800"/><stop offset=".375" stop-color="#f00"/><stop offset=".4062" stop-color="#b70000"/><stop offset=".4375" stop-color="#860000"/><stop offset=".4688" stop-color="#800000"/><stop offset=".5" stop-color="#800000"/><stop offset=".5312" stop-color="#970000"/><stop offset=".5625" stop-color="#d40000"/><stop offset=".5938" stop-color="#ff2700"/><stop offset=".625" stop-color="#ff8a00"/><stop offset=".6562" stop-color="#fff600"/><stop offset=".6875" stop-color="#9aff65"/><stop offset=".7188" stop-color="#30ffcf"/><stop offset=".75" stop-color="#00ceff"/><stop offset=".7812" stop-color="#007bff"/><stop offset=".8125" stop-color="#0037ff"/><stop offset=".8438" stop-color="#0003ff"/><stop offset=".875" stop-color="#00d"/><stop offset=".9062" stop-color="#0000c3"/><stop offset=".9375" stop-color="#0000b4"/><stop offset=".9688" stop-color="#0000ab"/><stop offset="1" stop-color="#0000a9"/></linearGradient><linearGradient id="a34" gradientUnits="userSpaceOnUse" x1="0" x2="0" y1="151.5" y2="88.75" spreadMethod="reflect"><stop offset="0" stop-color="#0000f1"/><stop offset=".0312" stop-color="#0000f7"/><stop offset=".0625" stop-color="#0008ff"/><stop offset=".0938" stop-color="#0025ff"/><stop offset=".125" stop-color="#004fff"/><stop offset=".1562" stop-color="#0086ff"/><stop offset=".1875" stop-color="#0cf"/><stop offset=".2188" stop-color="#1fffe0"/><stop offset=".25" stop-color="#7cff83"/><stop offset=".2812" stop-color="#e0ff1f"/><stop offset=".3125" stop-color="#ffb800"/><stop offset=".3438" stop-color="#ff5600"/><stop offset=".375" stop-color="#fc0000"/><stop offset=".4062" stop-color="#b50000"/><stop offset=".4375" stop-color="#840000"/><stop offset=".4688" stop-color="#800000"/><stop offset=".5" stop-color="#800000"/><stop offset=".5312" stop-color="#960000"/><stop offset=".5625" stop-color="#d30000"/><stop offset=".5938" stop-color="#ff2700"/><stop offset=".625" stop-color="#ff8a00"/><stop offset=".6562" stop-color="#fff600"/><stop offset=".6875" stop-color="#9f6"/><stop offset=".7188" stop-color="#2fffd0"/><stop offset=".75" stop-color="#00cdff"/><stop offset=".7812" stop-color="#007aff"/><stop offset=".8125" stop-color="#0037ff"/><stop offset=".8438" stop-color="#0002ff"/><stop offset=".875" stop-color="#0000dc"/><stop offset=".9062" stop-color="#0000c3"/><stop offset=".9375" stop-color="#0000b3"/><stop offset=".9688" stop-color="#0000ab"/><stop offset="1" stop-color="#0000a8"/></linearGradient><linearGradient id="a35" gradientUnits="userSpaceOnUse" x1="0" x2="0" y1="151.5" y2="88.75" spreadMethod="reflect"><stop offset="0" stop-color="#0000f1"/><stop offset=".0312" stop-color="#0000f7"/><stop offset=".0625" stop-color="#0009ff"/><stop offset=".0938" stop-color="#0026ff"/><stop offset=".125" stop-color="#0050ff"/><stop offset=".1562" stop-color="#0087ff"/><stop offset=".1875" stop-color="#00cdff"/><stop offset=".2188" stop-color="#20ffdf"/><stop offset=".25" stop-color="#7dff82"/><stop offset=".2812" stop-color="#e1ff1e"/><stop offset=".3125" stop-color="#ffb600"/><stop offset=".3438" stop-color="#ff5400"/><stop offset=".375" stop-color="#fb0000"/><stop offset=".4062" stop-color="#b40000"/><stop offset=".4375" stop-color="#830000"/><stop offset=".4688" stop-color="#800000"/><stop offset=".5" stop-color="#800000"/><stop offset=".5312" stop-color="#950000"/><stop offset=".5625" stop-color="#d30000"/><stop offset=".5938" stop-color="#ff2700"/><stop offset=".625" stop-color="#ff8a00"/><stop offset=".6562" stop-color="#fff700"/><stop offset=".6875" stop-color="#9f6"/><stop offset=".7188" stop-color="#2effd1"/><stop offset=".75" stop-color="#00cdff"/><stop offset=".7812" stop-color="#007aff"/><stop offset=".8125" stop-color="#0036ff"/><stop offset=".8438" stop-color="#0002ff"/><stop offset=".875" stop-color="#0000db"/><stop offset=".9062" stop-color="#0000c2"/><stop offset=".9375" stop-color="#0000b2"/><stop offset=".9688" stop-color="#00a"/><stop offset="1" stop-color="#0000a8"/></linearGradient><linearGradient id="a36" gradientUnits="userSpaceOnUse" x1="0" x2="0" y1="151.5" y2="88.75" spreadMethod="reflect"><stop offset="0" stop-color="#0000f2"/><stop offset=".0312" stop-color="#0000f7"/><stop offset=".0625" stop-color="#0009ff"/><stop offset=".0938" stop-color="#0026ff"/><stop offset=".125" stop-color="#0050ff"/><stop offset=".1562" stop-color="#08f"/><stop offset=".1875" stop-color="#00cdff"/><stop offset=".2188" stop-color="#21ffde"/><stop offset=".25" stop-color="#7eff81"/><stop offset=".2812" stop-color="#e2ff1d"/><stop offset=".3125" stop-color="#ffb600"/><stop offset=".3438" stop-color="#ff5300"/><stop offset=".375" stop-color="#fa0000"/><stop offset=".4062" stop-color="#b30000"/><stop offset=".4375" stop-color="#820000"/><stop offset=".4688" stop-color="#800000"/><stop offset=".5" stop-color="#800000"/><stop offset=".5312" stop-color="#950000"/><stop offset=".5625" stop-color="#d20000"/><stop offset=".5938" stop-color="#ff2700"/><stop offset=".625" stop-color="#ff8a00"/><stop offset=".6562" stop-color="#fff700"/><stop offset=".6875" stop-color="#9f6"/><stop offset=".7188" stop-color="#2effd1"/><stop offset=".75" stop-color="#00cdff"/><stop offset=".7812" stop-color="#0079ff"/><stop offset=".8125" stop-color="#0036ff"/><stop offset=".8438" stop-color="#0002ff"/><stop offset=".875" stop-color="#0000db"/><stop offset=".9062" stop-color="#0000c2"/><stop offset=".9375" stop-color="#0000b2"/><stop offset=".9688" stop-color="#00a"/><stop offset="1" stop-color="#0000a7"/></linearGradient></defs>
<g clip-path="url(#cla)"><g shape-rendering="crispEdges"><rect x="40" y="26" width="1" height="251" fill="url(#a0)"/><rect x="41" y="26" width="1" height="251" fill="url(#a1)"/><rect x="42" y="26" width="1" height="251" fill="url(#a2)"/><rect x="43" y="26" width="1" height="251" fill="url(#a3)"/><rect x="44" y="26" width="1" height="251" fill="url(#a4)"/><rect x="45" y="26" width="1" height="251" fill="url(#a5)"/><rect x="46" y="26" width="1" height="251" fill="url(#a6)"/><rect x="47" y="26" width="1" height="251" fill="url(#a7)"/><rect x="48" y="26" width="1" height="251" fill="url(#a8)"/><rect x="49" y="26" width="1" height="251" fill="url(#a9)"/><rect x="50" y="26" width="1" height="251" fill="url(#a10)"/><rect x="51" y="26" width="1" height="251" fill="url(#a11)"/><rect x="52" y="26" width="1" height="251" fill="url(#a12)"/><rect x="53" y="26" width="1" height="251" fill="url(#a13)"/><rect x="54" y="26" width="1" height="251" fill="url(#a14)"/><rect x="55" y="26" width="1" height="251" fill="url(#a15)"/><rect x="56" y="26" width="1" height="251" fill="url(#a16)"/><rect x="57" y="26" width="1" height="251" fill="url(#a17)"/><rect x="58" y="26" width="1" height="251" fill="url(#a18)"/><rect x="59" y="26" width="1" height="251" fill="url(#a19)"/><rect x="60" y="26" width="1" height="251" fill="url(#a20)"/><rect x="61" y="26" width="1" height="251" fill="url(#a21)"/><rect x="62" y="26" width="1" height="251" fill="url(#a22)"/><rect x="63" y="26" width="1" height="251" fill="url(#a23)"/><rect x="64" y="26" width="1" height="251" fill="url(#a24)"/><rect x="65" y="26" width="1" height="251" fill="url(#a25)"/><rect x="66" y="26" width="1" height="251" fill="url(#a26)"/><rect x="67" y="26" width="1" height="251" fill="url(#a27)"/><rect x="68" y="26" width="1" height="251" fill="url(#a28)"/><rect x="69" y="26" width="1" height="251" fill="url(#a29)"/><rect x="70" y="26" width="1" height="251" fill="url(#a30)"/><rect x="71" y="26" width="1" height="251" fill="url(#a31)"/><rect x="72" y="26" width="1" height="251" fill="url(#a32)"/><rect x="73" y="26" width="1" height="251" fill="url(#a33)"/><rect x="74" y="26" width="1" height="251" fill="url(#a34)"/><rect x="75" y="26" width="1" height="251" fill="url(#a35)"/><rect x="76" y="26" width="1" height="251" fill="url(#a36)"/><rect x="77" y="26" width="1" height="251" fill="url(#a35)"/><rect x="78" y="26" width="1" height="251" fill="url(#a34)"/><rect x="79" y="26" width="1" height="251" fill="url(#a33)"/><rect x="80" y="26" width="1" height="251" fill="url(#a32)"/><rect x="81" y="26" width="1" height="251" fill="url(#a31)"/><rect x="82" y="26" width="1" height="251" fill="url(#a30)"/><rect x="83" y="26" width="1" height="251" fill="url(#a29)"/><rect x="84" y="26" width="1" height="251" fill="url(#a28)"/><rect x="85" y="26" width="1" height="251" fill="url(#a27)"/><rect x="86" y="26" width="1" height="251" fill="url(#a26)"/><rect x="87" y="26" width="1" height="251" fill="url(#a25)"/><rect x="88" y="26" width="1" height="251" fill="url(#a24)"/><rect x="89" y="26" width="1" height="251" fill="url(#a23)"/><rect x="90" y="26" width="1" height="251" fill="url(#a22)"/><rect x="91" y="26" width="1" height="251" fill="url(#a21)"/><rect x="92" y="26" width="1" height="251" fill="url(#a20)"/><rect x="93" y="26" width="1" height="251" fill="url(#a19)"/><rect x="94" y="26" width="1" height="251" fill="url(#a18)"/><rect x="95" y="26" width="1" height="251" fill="url(#a17)"/><rect x="96" y="26" width="1" height="251" fill="url(#a16)"/><rect x="97" y="26" width="1" height="251" fill="url(#a15)"/><rect x="98" y="26" width="1" height="251" fill="url(#a14)"/><rect x="99" y="26" width="1" height="251" fill="url(#a13)"/><rect x="100" y="26" width="1" height="251" fill="url(#a12)"/><rect x="101" y="26" width="1" height="251" fill="url(#a11)"/><rect x="102" y="26" width="1" height="251" fill="url(#a10)"/><rect x="103" y="26" width="1" height="251" fill="url(#a9)"/><rect x="104" y="26" width="1" height="251" fill="url(#a8)"/><rect x="105" y="26" width="1" height="251" fill="url(#a7)"/><rect x="106" y="26" width="1" height="251" fill="url(#a6)"/><rect x="107" y="26" width="1" height="251" fill="url(#a5)"/><rect x="108" y="26" width="1" height="251" fill="url(#a4)"/><rect x="109" y="26" width="1" height="251" fill="url(#a3)"/><rect x="110" y="26" width="1" height="251" fill="url(#a2)"/><rect x="111" y="26" width="1" height="251" fill="url(#a1)"/><rect x="112" y="26" width="1" height="251" fill="url(#a0)"/><rect x="113" y="26" width="1" height="251" fill="url(#a0)"/><rect x="114" y="26" width="1" height="251" fill="url(#a1)"/><rect x="115" y="26" width="1" height="251" fill="url(#a2)"/><rect x="116" y="26" width="1" height="251" fill="url(#a3)"/><rect x="117" y="26" width="1" height="251" fill="url(#a4)"/><rect x="118" y="26" width="1" height="251" fill="url(#a5)"/><rect x="119" y="26" width="1" height="251" fill="url(#a6)"/><rect x="120" y="26" width="1" height="251" fill="url(#a7)"/><rect x="121" y="26" width="1" height="251" fill="url(#a8)"/><rect x="122" y="26" width="1" height="251" fill="url(#a9)"/><rect x="123" y="26" width="1" height="251" fill="url(#a10)"/><rect x="124" y="26" width="1" height="251" fill="url(#a11)"/><rect x="125" y="26" width="1" height="251" fill="url(#a12)"/><rect x="126" y="26" width="1" height="251" fill="url(#a13)"/><rect x="127" y="26" width="1" height="251" fill="url(#a14)"/><rect x="128" y="26" width="1" height="251" fill="url(#a15)"/><rect x="129" y="26" width="1" height="251" fill="url(#a16)"/><rect x="130" y="26" width="1" height="251" fill="url(#a17)"/><rect x="131" y="26" width="1" height="251" fill="url(#a18)"/><rect x="132" y="26" width="1" height="251" fill="url(#a19)"/><rect x="133" y="26" width="1" height="251" fill="url(#a20)"/><rect x="134" y="26" width="1" height="251" fill="url(#a21)"/><rect x="135" y="26" width="1" height="251" fill="url(#a22)"/><rect x="136" y="26" width="1" height="251" fill="url(#a23)"/><rect x="137" y="26" width="1" height="251" fill="url(#a24)"/><rect x="138" y="26" width="1" height="251" fill="url(#a25)"/><rect x="139" y="26" width="1" height="251" fill="url(#a26)"/><rect x="140" y="26" width="1" height="251" fill="url(#a27)"/><rect x="141" y="26" width="1" height="251" fill="url(#a28)"/><rect x="142" y="26" width="1" height="251" fill="url(#a29)"/><rect x="143" y="26" width="1" height="251" fill="url(#a30)"/><rect x="144" y="26" width="1" height="251" fill="url(#a31)"/><rect x="145" y="26" width="1" height="251" fill="url(#a32)"/><rect x="146" y="26" width="1" height="251" fill="url(#a33)"/><rect x="147" y="26" width="1" height="251" fill="url(#a34)"/><rect x="148" y="26" width="1" height="251" fill="url(#a35)"/><rect x="149" y="26" width="1" height="251" fill="url(#a36)"/><rect x="150" y="26" width="1" height="251" fill="url(#a35)"/><rect x="151" y="26" width="1" height="251" fill="url(#a34)"/><rect x="152" y="26" width="1" height="251" fill="url(#a33)"/><rect x="153" y="26" width="1" height="251" fill="url(#a32)"/><rect x="154" y="26" width="1" height="251" fill="url(#a31)"/><rect x="155" y="26" width="1" height="251" fill="url(#a30)"/><rect x="156" y="26" width="1" height="251" fill="url(#a29)"/><rect x="157" y="26" width="1" height="251" fill="url(#a28)"/><rect x="158" y="26" width="1" height="251" fill="url(#a27)"/><rect x="159" y="26" width="1" height="251" fill="url(#a26)"/><rect x="160" y="26" width="1" height="251" fill="url(#a25)"/><rect x="161" y="26" width="1" height="251" fill="url(#a24)"/><rect x="162" y="26" width="1" height="251" fill="url(#a23)"/><rect x="163" y="26" width="1" height="251" fill="url(#a22)"/><rect x="164" y="26" width="1" height="251" fill="url(#a21)"/><rect x="165" y="26" width="1" height="251" fill="url(#a20)"/><rect x="166" y="26" width="1" height="251" fill="url(#a19)"/><rect x="167" y="26" width="1" height="251" fill="url(#a18)"/><rect x="168" y="26" width="1" height="251" fill="url(#a17)"/><rect x="169" y="26" width="1" height="251" fill="url(#a16)"/><rect x="170" y="26" width="1" height="251" fill="url(#a15)"/><rect x="171" y="26" width="1" height="251" fill="url(#a14)"/><rect x="172" y="26" width="1" height="251" fill="url(#a13)"/><rect x="173" y="26" width="1" height="251" fill="url(#a12)"/><rect x="174" y="26" width="1" height="251" fill="url(#a11)"/><rect x="175" y="26" width="1" height="251" fill="url(#a10)"/><rect x="176" y="26" width="1" height="251" fill="url(#a9)"/><rect x="177" y="26" width="1" height="251" fill="url(#a8)"/><rect x="178" y="26" width="1" height="251" fill="url(#a7)"/><rect x="179" y="26" width="1" height="251" fill="url(#a6)"/><rect x="180" y="26" width="1" height="251" fill="url(#a5)"/><rect x="181" y="26" width="1" height="251" fill="url(#a4)"/><rect x="182" y="26" width="1" height="251" fill="url(#a3)"/><rect x="183" y="26" width="1" height="251" fill="url(#a2)"/><rect x="184" y="26" width="1" height="251" fill="url(#a1)"/><rect x="185" y="26" width="1" height="251" fill="url(#a0)"/></g></g>
<linearGradient id="cba" x1="0" x2="0" y1="0" y2="1"><stop offset="0" stop-color="#800000"/><stop offset="0.125" stop-color="#f00"/><stop offset="0.375" stop-color="#ff0"/><stop offset="0.625" stop-color="#0ff"/><stop offset="0.875" stop-color="#00f"/><stop offset="1" stop-color="#000080"/></linearGradient><rect x="197" y="26" width="15" height="251.7" fill="url(#cba)"/><path d="M197 73.7h1.6M212 73.7h-1.6" stroke="#400" stroke-opacity="0.55" stroke-width="0.6" fill="none"/><path d="M197 120.79h1.6M212 120.79h-1.6" stroke="#400" stroke-opacity="0.55" stroke-width="0.6" fill="none"/><path d="M197 167.88h1.6M212 167.88h-1.6" stroke="#400" stroke-opacity="0.55" stroke-width="0.6" fill="none"/><path d="M197 214.97h1.6M212 214.97h-1.6" stroke="#400" stroke-opacity="0.55" stroke-width="0.6" fill="none"/><path d="M197 262.06h1.6M212 262.06h-1.6" stroke="#400" stroke-opacity="0.55" stroke-width="0.6" fill="none"/>
<g font-family="'Liberation Sans',sans-serif" fill="#000" stroke="#000" stroke-width="0.3"><text x="62.6" y="18.3" font-size="14.8"><tspan font-style="italic">H</tspan><tspan font-size="11.3" dy="3.6">bias</tspan><tspan dy="-3.6"> = 50 kA/m</tspan></text><text x="33.9" y="30.9" font-size="14" text-anchor="end"><tspan font-style="italic">b</tspan></text><text x="36.8" y="93.1" font-size="14" text-anchor="end"><tspan font-style="italic">b</tspan>/2</text><text x="36.8" y="156.9" font-size="14" text-anchor="end">0</text><text x="36.8" y="219.5" font-size="14" text-anchor="end">-<tspan font-style="italic">b</tspan>/2</text><text x="34" y="280.8" font-size="14" text-anchor="end">-<tspan font-style="italic">b</tspan></text><text x="38.2" y="293.2" font-size="14.6" text-anchor="middle">-<tspan font-style="italic">a</tspan></text><text x="73.7" y="293.2" font-size="14.6" text-anchor="middle">-<tspan font-style="italic">a</tspan>/2</text><text x="113.5" y="293.2" font-size="14" text-anchor="middle">0</text><text x="149.9" y="292.2" font-size="14.6" text-anchor="middle"><tspan font-style="italic">a</tspan>/2</text><text x="185.4" y="290.5" font-size="14.6" text-anchor="middle"><tspan font-style="italic">a</tspan></text><text x="113.1" y="306.3" font-size="13.8" font-style="italic" text-anchor="middle">x</text><text transform="translate(14.9 150.8) rotate(-90) scale(1 1.25)" font-size="13.6" font-style="italic" text-anchor="middle">y</text><text x="214" y="80.15" font-size="16">40</text><text x="214" y="127.24" font-size="16">20</text><text x="214" y="174.33" font-size="16">0</text><text x="214" y="221.42" font-size="16">-20</text><text x="214" y="268.51" font-size="16">-40</text><text transform="translate(251.9 201.5) rotate(-90)" font-size="17"><tspan x="0" font-size="14.8" font-style="italic">F</tspan><tspan x="5.2" dy="7.4" font-size="12.7">mag,z</tspan><tspan x="41.9" dy="-7.4" font-size="17.4" letter-spacing="0.15">(pN)</tspan></text><text x="217.6" y="309.1" font-size="19.2" stroke="none" font-family="'DejaVu Serif','Liberation Serif',serif">(a)</text></g><defs><clipPath id="clb"><rect x="319" y="26.5" width="146" height="251"/></clipPath><linearGradient id="b0" gradientUnits="userSpaceOnUse" x1="0" x2="0" y1="152" y2="89.25" spreadMethod="reflect"><stop offset="0" stop-color="#0000e8"/><stop offset=".0312" stop-color="#0000eb"/><stop offset=".0625" stop-color="#0000f3"/><stop offset=".0938" stop-color="#0002ff"/><stop offset=".125" stop-color="#001bff"/><stop offset=".1562" stop-color="#0040ff"/><stop offset=".1875" stop-color="#0073ff"/><stop offset=".2188" stop-color="#00b5ff"/><stop offset=".25" stop-color="#08fff7"/><stop offset=".2812" stop-color="#67ff98"/><stop offset=".3125" stop-color="#ceff31"/><stop offset=".3438" stop-color="#ffc500"/><stop offset=".375" stop-color="#ff5e00"/><stop offset=".4062" stop-color="#ff0200"/><stop offset=".4375" stop-color="#b80000"/><stop offset=".4688" stop-color="#870000"/><stop offset=".5" stop-color="#800000"/><stop offset=".5312" stop-color="#800000"/><stop offset=".5625" stop-color="#a10000"/><stop offset=".5938" stop-color="#e20000"/><stop offset=".625" stop-color="#ff3a00"/><stop offset=".6562" stop-color="#ffa000"/><stop offset=".6875" stop-color="#f0ff0f"/><stop offset=".7188" stop-color="#80ff7f"/><stop offset=".75" stop-color="#15ffea"/><stop offset=".7812" stop-color="#00b4ff"/><stop offset=".8125" stop-color="#0061ff"/><stop offset=".8438" stop-color="#001cff"/><stop offset=".875" stop-color="#0000e6"/><stop offset=".9062" stop-color="#0000bf"/><stop offset=".9375" stop-color="#0000a5"/><stop offset=".9688" stop-color="#000096"/><stop offset="1" stop-color="#000091"/></linearGradient><linearGradient id="b1" gradientUnits="userSpaceOnUse" x1="0" x2="0" y1="152" y2="89.25" spreadMethod="reflect"><stop offset="0" stop-color="#0000e8"/><stop offset=".0312" stop-color="#0000ea"/><stop offset=".0625" stop-color="#0000f2"/><stop offset=".0938" stop-color="#0002ff"/><stop offset=".125" stop-color="#001bff"/><stop offset=".1562" stop-color="#003fff"/><stop offset=".1875" stop-color="#0073ff"/><stop offset=".2188" stop-color="#00b5ff"/><stop offset=".25" stop-color="#08fff7"/><stop offset=".2812" stop-color="#67ff98"/><stop offset=".3125" stop-color="#ceff31"/><stop offset=".3438" stop-color="#ffc500"/><stop offset=".375" stop-color="#ff5e00"/><stop offset=".4062" stop-color="#ff0300"/><stop offset=".4375" stop-color="#b80000"/><stop offset=".4688" stop-color="#870000"/><stop offset=".5" stop-color="#800000"/><stop offset=".5312" stop-color="#800000"/><stop offset=".5625" stop-color="#a20000"/><stop offset=".5938" stop-color="#e30000"/><stop offset=".625" stop-color="#ff3b00"/><stop offset=".6562" stop-color="#ffa100"/><stop offset=".6875" stop-color="#efff10"/><stop offset=".7188" stop-color="#80ff7f"/><stop offset=".75" stop-color="#15ffea"/><stop offset=".7812" stop-color="#00b4ff"/><stop offset=".8125" stop-color="#0060ff"/><stop offset=".8438" stop-color="#001cff"/><stop offset=".875" stop-color="#0000e6"/><stop offset=".9062" stop-color="#0000bf"/><stop offset=".9375" stop-color="#0000a5"/><stop offset=".9688" stop-color="#000096"/><stop offset="1" stop-color="#000091"/></linearGradient><linearGradient id="b2" gradientUnits="userSpaceOnUse" x1="0" x2="0" y1="152" y2="89.25" spreadMethod="reflect"><stop offset="0" stop-color="#0000e7"/><stop offset=".0312" stop-color="#0000ea"/><stop offset=".0625" stop-color="#0000f2"/><stop offset=".0938" stop-color="#0002ff"/><stop offset=".125" stop-color="#001aff"/><stop offset=".1562" stop-color="#003fff"/><stop offset=".1875" stop-color="#0072ff"/><stop offset=".2188" stop-color="#00b5ff"/><stop offset=".25" stop-color="#08fff7"/><stop offset=".2812" stop-color="#6f9"/><stop offset=".3125" stop-color="#ceff31"/><stop offset=".3438" stop-color="#ffc600"/><stop offset=".375" stop-color="#ff5f00"/><stop offset=".4062" stop-color="#ff0300"/><stop offset=".4375" stop-color="#b90000"/><stop offset=".4688" stop-color="#800"/><stop offset=".5" stop-color="#800000"/><stop offset=".5312" stop-color="#800000"/><stop offset=".5625" stop-color="#a30000"/><stop offset=".5938" stop-color="#e40000"/><stop offset=".625" stop-color="#ff3c00"/><stop offset=".6562" stop-color="#ffa200"/><stop offset=".6875" stop-color="#ef1"/><stop offset=".7188" stop-color="#7fff80"/><stop offset=".75" stop-color="#14ffeb"/><stop offset=".7812" stop-color="#00b3ff"/><stop offset=".8125" stop-color="#0060ff"/><stop offset=".8438" stop-color="#001cff"/><stop offset=".875" stop-color="#0000e6"/><stop offset=".9062" stop-color="#0000bf"/><stop offset=".9375" stop-color="#0000a5"/><stop offset=".9688" stop-color="#000096"/><stop offset="1" stop-color="#000092"/></linearGradient><linearGradient id="b3" gradientUnits="userSpaceOnUse" x1="0" x2="0" y1="152" y2="89.25" spreadMethod="reflect"><stop offset="0" stop-color="#0000e6"/><stop offset=".0312" stop-color="#0000e9"/><stop offset=".0625" stop-color="#0000f1"/><stop offset=".0938" stop-color="#0001ff"/><stop offset=".125" stop-color="#0019ff"/><stop offset=".1562" stop-color="#003eff"/><stop offset=".1875" stop-color="#0071ff"/><stop offset=".2188" stop-color="#00b4ff"/><stop offset=".25" stop-color="#07fff8"/><stop offset=".2812" stop-color="#6f9"/><stop offset=".3125" stop-color="#cdff32"/><stop offset=".3438" stop-color="#ffc600"/><stop offset=".375" stop-color="#ff6000"/><stop offset=".4062" stop-color="#ff0400"/><stop offset=".4375" stop-color="#ba0000"/><stop offset=".4688" stop-color="#890000"/><stop offset=".5" stop-color="#800000"/><stop offset=".5312" stop-color="#800000"/><stop offset=".5625" stop-color="#a50000"/><stop offset=".5938" stop-color="#e60000"/><stop offset=".625" stop-color="#ff3e00"/><stop offset=".6562" stop-color="#ffa400"/><stop offset=".6875" stop-color="#ecff13"/><stop offset=".7188" stop-color="#7dff82"/><stop offset=".75" stop-color="#13ffec"/><stop offset=".7812" stop-color="#00b2ff"/><stop offset=".8125" stop-color="#0060ff"/><stop offset=".8438" stop-color="#001cff"/><stop offset=".875" stop-color="#0000e6"/><stop offset=".9062" stop-color="#0000c0"/><stop offset=".9375" stop-color="#0000a6"/><stop offset=".9688" stop-color="#000097"/><stop offset="1" stop-color="#000092"/></linearGradient><linearGradient id="b4" gradientUnits="userSpaceOnUse" x1="0" x2="0" y1="152" y2="89.25" spreadMethod="reflect"><stop offset="0" stop-color="#0000e5"/><stop offset=".0312" stop-color="#0000e8"/><stop offset=".0625" stop-color="#0000f0"/><stop offset=".0938" stop-color="#00f"/><stop offset=".125" stop-color="#0018ff"/><stop offset=".1562" stop-color="#003dff"/><stop offset=".1875" stop-color="#0071ff"/><stop offset=".2188" stop-color="#00b3ff"/><stop offset=".25" stop-color="#06fff9"/><stop offset=".2812" stop-color="#65ff9a"/><stop offset=".3125" stop-color="#cf3"/><stop offset=".3438" stop-color="#ffc700"/><stop offset=".375" stop-color="#ff6100"/><stop offset=".4062" stop-color="#ff0600"/><stop offset=".4375" stop-color="#bc0000"/><stop offset=".4688" stop-color="#8b0000"/><stop offset=".5" stop-color="#800000"/><stop offset=".5312" stop-color="#800000"/><stop offset=".5625" stop-color="#a70000"/><stop offset=".5938" stop-color="#e80000"/><stop offset=".625" stop-color="#ff4000"/><stop offset=".6562" stop-color="#ffa600"/><stop offset=".6875" stop-color="#ebff14"/><stop offset=".7188" stop-color="#7cff83"/><stop offset=".75" stop-color="#12ffed"/><stop offset=".7812" stop-color="#00b1ff"/><stop offset=".8125" stop-color="#005fff"/><stop offset=".8438" stop-color="#001cff"/><stop offset=".875" stop-color="#0000e7"/><stop offset=".9062" stop-color="#0000c0"/><stop offset=".9375" stop-color="#0000a7"/><stop offset=".9688" stop-color="#000098"/><stop offset="1" stop-color="#000093"/></linearGradient><linearGradient id="b5" gradientUnits="userSpaceOnUse" x1="0" x2="0" y1="152" y2="89.25" spreadMethod="reflect"><stop offset="0" stop-color="#0000e4"/><stop offset=".0312" stop-color="#0000e6"/><stop offset=".0625" stop-color="#00e"/><stop offset=".0938" stop-color="#0000fd"/><stop offset=".125" stop-color="#0017ff"/><stop offset=".1562" stop-color="#003cff"/><stop offset=".1875" stop-color="#0070ff"/><stop offset=".2188" stop-color="#00b3ff"/><stop offset=".25" stop-color="#05fffa"/><stop offset=".2812" stop-color="#64ff9b"/><stop offset=".3125" stop-color="#cbff34"/><stop offset=".3438" stop-color="#ffc800"/><stop offset=".375" stop-color="#ff6200"/><stop offset=".4062" stop-color="#ff0700"/><stop offset=".4375" stop-color="#be0000"/><stop offset=".4688" stop-color="#8d0000"/><stop offset=".5" stop-color="#800000"/><stop offset=".5312" stop-color="#830000"/><stop offset=".5625" stop-color="#a00"/><stop offset=".5938" stop-color="#eb0000"/><stop offset=".625" stop-color="#ff4300"/><stop offset=".6562" stop-color="#ffa800"/><stop offset=".6875" stop-color="#e8ff17"/><stop offset=".7188" stop-color="#7aff85"/><stop offset=".75" stop-color="#1fe"/><stop offset=".7812" stop-color="#00b0ff"/><stop offset=".8125" stop-color="#005fff"/><stop offset=".8438" stop-color="#001cff"/><stop offset=".875" stop-color="#0000e7"/><stop offset=".9062" stop-color="#0000c1"/><stop offset=".9375" stop-color="#0000a8"/><stop offset=".9688" stop-color="#009"/><stop offset="1" stop-color="#000095"/></linearGradient><linearGradient id="b6" gradientUnits="userSpaceOnUse" x1="0" x2="0" y1="152" y2="89.25" spreadMethod="reflect"><stop offset="0" stop-color="#0000e2"/><stop offset=".0312" stop-color="#0000e4"/><stop offset=".0625" stop-color="#0000ec"/><stop offset=".0938" stop-color="#0000fc"/><stop offset=".125" stop-color="#0016ff"/><stop offset=".1562" stop-color="#003bff"/><stop offset=".1875" stop-color="#006fff"/><stop offset=".2188" stop-color="#00b2ff"/><stop offset=".25" stop-color="#04fffb"/><stop offset=".2812" stop-color="#63ff9c"/><stop offset=".3125" stop-color="#caff35"/><stop offset=".3438" stop-color="#ffca00"/><stop offset=".375" stop-color="#ff6400"/><stop offset=".4062" stop-color="#ff0900"/><stop offset=".4375" stop-color="#c00000"/><stop offset=".4688" stop-color="#900000"/><stop offset=".5" stop-color="#800000"/><stop offset=".5312" stop-color="#850000"/><stop offset=".5625" stop-color="#ad0000"/><stop offset=".5938" stop-color="#e00"/><stop offset=".625" stop-color="#ff4600"/><stop offset=".6562" stop-color="#ffab00"/><stop offset=".6875" stop-color="#e6ff19"/><stop offset=".7188" stop-color="#7f8"/><stop offset=".75" stop-color="#0ffff0"/><stop offset=".7812" stop-color="#00afff"/><stop offset=".8125" stop-color="#005eff"/><stop offset=".8438" stop-color="#001cff"/><stop offset=".875" stop-color="#0000e7"/><stop offset=".9062" stop-color="#0000c2"/><stop offset=".9375" stop-color="#0000a9"/><stop offset=".9688" stop-color="#00009b"/><stop offset="1" stop-color="#000096"/></linearGradient><linearGradient id="b7" gradientUnits="userSpaceOnUse" x1="0" x2="0" y1="152" y2="89.25" spreadMethod="reflect"><stop offset="0" stop-color="#0000e0"/><stop offset=".0312" stop-color="#0000e2"/><stop offset=".0625" stop-color="#0000eb"/><stop offset=".0938" stop-color="#0000fa"/><stop offset=".125" stop-color="#0014ff"/><stop offset=".1562" stop-color="#003aff"/><stop offset=".1875" stop-color="#006dff"/><stop offset=".2188" stop-color="#00b0ff"/><stop offset=".25" stop-color="#03fffc"/><stop offset=".2812" stop-color="#62ff9d"/><stop offset=".3125" stop-color="#c9ff36"/><stop offset=".3438" stop-color="#ffcb00"/><stop offset=".375" stop-color="#ff6500"/><stop offset=".4062" stop-color="#ff0b00"/><stop offset=".4375" stop-color="#c20000"/><stop offset=".4688" stop-color="#920000"/><stop offset=".5" stop-color="#800000"/><stop offset=".5312" stop-color="#890000"/><stop offset=".5625" stop-color="#b00000"/><stop offset=".5938" stop-color="#f20000"/><stop offset=".625" stop-color="#ff4900"/><stop offset=".6562" stop-color="#ffae00"/><stop offset=".6875" stop-color="#e3ff1c"/><stop offset=".7188" stop-color="#75ff8a"/><stop offset=".75" stop-color="#0dfff2"/><stop offset=".7812" stop-color="#00aeff"/><stop offset=".8125" stop-color="#005dff"/><stop offset=".8438" stop-color="#001cff"/><stop offset=".875" stop-color="#0000e8"/><stop offset=".9062" stop-color="#0000c3"/><stop offset=".9375" stop-color="#00a"/><stop offset=".9688" stop-color="#00009c"/><stop offset="1" stop-color="#000098"/></linearGradient><linearGradient id="b8" gradientUnits="userSpaceOnUse" x1="0" x2="0" y1="152" y2="89.25" spreadMethod="reflect"><stop offset="0" stop-color="#0000de"/><stop offset=".0312" stop-color="#0000e0"/><stop offset=".0625" stop-color="#0000e8"/><stop offset=".0938" stop-color="#0000f8"/><stop offset=".125" stop-color="#0012ff"/><stop offset=".1562" stop-color="#0038ff"/><stop offset=".1875" stop-color="#006cff"/><stop offset=".2188" stop-color="#00afff"/><stop offset=".25" stop-color="#02fffd"/><stop offset=".2812" stop-color="#61ff9e"/><stop offset=".3125" stop-color="#c8ff37"/><stop offset=".3438" stop-color="#fc0"/><stop offset=".375" stop-color="#ff6700"/><stop offset=".4062" stop-color="#ff0d00"/><stop offset=".4375" stop-color="#c40000"/><stop offset=".4688" stop-color="#950000"/><stop offset=".5" stop-color="#810000"/><stop offset=".5312" stop-color="#8c0000"/><stop offset=".5625" stop-color="#b40000"/><stop offset=".5938" stop-color="#f50000"/><stop offset=".625" stop-color="#ff4d00"/><stop offset=".6562" stop-color="#ffb200"/><stop offset=".6875" stop-color="#dfff20"/><stop offset=".7188" stop-color="#72ff8d"/><stop offset=".75" stop-color="#0bfff4"/><stop offset=".7812" stop-color="#00acff"/><stop offset=".8125" stop-color="#005cff"/><stop offset=".8438" stop-color="#001bff"/><stop offset=".875" stop-color="#0000e8"/><stop offset=".9062" stop-color="#0000c4"/><stop offset=".9375" stop-color="#0000ac"/><stop offset=".9688" stop-color="#00009e"/><stop offset="1" stop-color="#00009a"/></linearGradient><linearGradient id="b9" gradientUnits="userSpaceOnUse" x1="0" x2="0" y1="152" y2="89.25" spreadMethod="reflect"><stop offset="0" stop-color="#0000db"/><stop offset=".0312" stop-color="#0000de"/><stop offset=".0625" stop-color="#0000e6"/><stop offset=".0938" stop-color="#0000f6"/><stop offset=".125" stop-color="#01f"/><stop offset=".1562" stop-color="#0036ff"/><stop offset=".1875" stop-color="#006bff"/><stop offset=".2188" stop-color="#00aeff"/><stop offset=".25" stop-color="#01fffe"/><stop offset=".2812" stop-color="#60ff9f"/><stop offset=".3125" stop-color="#c7ff38"/><stop offset=".3438" stop-color="#ffcd00"/><stop offset=".375" stop-color="#ff6800"/><stop offset=".4062" stop-color="#ff0e00"/><stop offset=".4375" stop-color="#c60000"/><stop offset=".4688" stop-color="#970000"/><stop offset=".5" stop-color="#840000"/><stop offset=".5312" stop-color="#8f0000"/><stop offset=".5625" stop-color="#b70000"/><stop offset=".5938" stop-color="#f90000"/><stop offset=".625" stop-color="#ff5100"/><stop offset=".6562" stop-color="#ffb600"/><stop offset=".6875" stop-color="#dcff23"/><stop offset=".7188" stop-color="#6fff90"/><stop offset=".75" stop-color="#08fff7"/><stop offset=".7812" stop-color="#00abff"/><stop offset=".8125" stop-color="#005cff"/><stop offset=".8438" stop-color="#001bff"/><stop offset=".875" stop-color="#0000e9"/><stop offset=".9062" stop-color="#0000c5"/><stop offset=".9375" stop-color="#0000ae"/><stop offset=".9688" stop-color="#0000a0"/><stop offset="1" stop-color="#00009c"/></linearGradient><linearGradient id="b10" gradientUnits="userSpaceOnUse" x1="0" x2="0" y1="152" y2="89.25" spreadMethod="reflect"><stop offset="0" stop-color="#0000d8"/><stop offset=".0312" stop-color="#0000db"/><stop offset=".0625" stop-color="#0000e3"/><stop offset=".0938" stop-color="#0000f4"/><stop offset=".125" stop-color="#000eff"/><stop offset=".1562" stop-color="#0035ff"/><stop offset=".1875" stop-color="#0069ff"/><stop offset=".2188" stop-color="#00adff"/><stop offset=".25" stop-color="#0ff"/><stop offset=".2812" stop-color="#5fffa0"/><stop offset=".3125" stop-color="#c6ff39"/><stop offset=".3438" stop-color="#ffce00"/><stop offset=".375" stop-color="#ff6900"/><stop offset=".4062" stop-color="#ff1000"/><stop offset=".4375" stop-color="#c80000"/><stop offset=".4688" stop-color="#9a0000"/><stop offset=".5" stop-color="#870000"/><stop offset=".5312" stop-color="#930000"/><stop offset=".5625" stop-color="#b00"/><stop offset=".5938" stop-color="#fd0000"/><stop offset=".625" stop-color="#f50"/><stop offset=".6562" stop-color="#ffb900"/><stop offset=".6875" stop-color="#d9ff26"/><stop offset=".7188" stop-color="#6dff92"/><stop offset=".75" stop-color="#06fff9"/><stop offset=".7812" stop-color="#00a9ff"/><stop offset=".8125" stop-color="#005bff"/><stop offset=".8438" stop-color="#001cff"/><stop offset=".875" stop-color="#0000ea"/><stop offset=".9062" stop-color="#0000c7"/><stop offset=".9375" stop-color="#0000b0"/><stop offset=".9688" stop-color="#0000a3"/><stop offset="1" stop-color="#00009e"/></linearGradient><linearGradient id="b11" gradientUnits="userSpaceOnUse" x1="0" x2="0" y1="152" y2="89.25" spreadMethod="reflect"><stop offset="0" stop-color="#0000d5"/><stop offset=".0312" stop-color="#0000d8"/><stop offset=".0625" stop-color="#0000e1"/><stop offset=".0938" stop-color="#0000f1"/><stop offset=".125" stop-color="#000cff"/><stop offset=".1562" stop-color="#03f"/><stop offset=".1875" stop-color="#0068ff"/><stop offset=".2188" stop-color="#00acff"/><stop offset=".25" stop-color="#0ff"/><stop offset=".2812" stop-color="#5fffa0"/><stop offset=".3125" stop-color="#c6ff39"/><stop offset=".3438" stop-color="#ffcf00"/><stop offset=".375" stop-color="#ff6a00"/><stop offset=".4062" stop-color="#ff1200"/><stop offset=".4375" stop-color="#ca0000"/><stop offset=".4688" stop-color="#9c0000"/><stop offset=".5" stop-color="#8a0000"/><stop offset=".5312" stop-color="#960000"/><stop offset=".5625" stop-color="#bf0000"/><stop offset=".5938" stop-color="#ff0200"/><stop offset=".625" stop-color="#ff5800"/><stop offset=".6562" stop-color="#ffbd00"/><stop offset=".6875" stop-color="#d5ff2a"/><stop offset=".7188" stop-color="#6aff95"/><stop offset=".75" stop-color="#04fffb"/><stop offset=".7812" stop-color="#00a8ff"/><stop offset=".8125" stop-color="#005aff"/><stop offset=".8438" stop-color="#001cff"/><stop offset=".875" stop-color="#0000eb"/><stop offset=".9062" stop-color="#0000c8"/><stop offset=".9375" stop-color="#0000b2"/><stop offset=".9688" stop-color="#0000a5"/><stop offset="1" stop-color="#0000a1"/></linearGradient><linearGradient id="b12" gradientUnits="userSpaceOnUse" x1="0" x2="0" y1="152" y2="89.25" spreadMethod="reflect"><stop offset="0" stop-color="#0000d2"/><stop offset=".0312" stop-color="#0000d5"/><stop offset=".0625" stop-color="#0000de"/><stop offset=".0938" stop-color="#0000ef"/><stop offset=".125" stop-color="#000aff"/><stop offset=".1562" stop-color="#0031ff"/><stop offset=".1875" stop-color="#06f"/><stop offset=".2188" stop-color="#00abff"/><stop offset=".25" stop-color="#00feff"/><stop offset=".2812" stop-color="#5effa1"/><stop offset=".3125" stop-color="#c5ff3a"/><stop offset=".3438" stop-color="#ffd000"/><stop offset=".375" stop-color="#ff6b00"/><stop offset=".4062" stop-color="#ff1300"/><stop offset=".4375" stop-color="#c00"/><stop offset=".4688" stop-color="#9e0000"/><stop offset=".5" stop-color="#8d0000"/><stop offset=".5312" stop-color="#900"/><stop offset=".5625" stop-color="#c20000"/><stop offset=".5938" stop-color="#ff0500"/><stop offset=".625" stop-color="#ff5c00"/><stop offset=".6562" stop-color="#ffc100"/><stop offset=".6875" stop-color="#d2ff2d"/><stop offset=".7188" stop-color="#67ff98"/><stop offset=".75" stop-color="#02fffd"/><stop offset=".7812" stop-color="#00a6ff"/><stop offset=".8125" stop-color="#005aff"/><stop offset=".8438" stop-color="#001cff"/><stop offset=".875" stop-color="#0000ec"/><stop offset=".9062" stop-color="#0000ca"/><stop offset=".9375" stop-color="#0000b4"/><stop offset=".9688" stop-color="#0000a8"/><stop offset="1" stop-color="#0000a4"/></linearGradient><linearGradient id="b13" gradientUnits="userSpaceOnUse" x1="0" x2="0" y1="152" y2="89.25" spreadMethod="reflect"><stop offset="0" stop-color="#0000cf"/><stop offset=".0312" stop-color="#0000d2"/><stop offset=".0625" stop-color="#0000db"/><stop offset=".0938" stop-color="#0000ec"/><stop offset=".125" stop-color="#0008ff"/><stop offset=".1562" stop-color="#002fff"/><stop offset=".1875" stop-color="#0065ff"/><stop offset=".2188" stop-color="#0af"/><stop offset=".25" stop-color="#00fdff"/><stop offset=".2812" stop-color="#5effa1"/><stop offset=".3125" stop-color="#c5ff3a"/><stop offset=".3438" stop-color="#ffd000"/><stop offset=".375" stop-color="#ff6c00"/><stop offset=".4062" stop-color="#ff1400"/><stop offset=".4375" stop-color="#cd0000"/><stop offset=".4688" stop-color="#a00000"/><stop offset=".5" stop-color="#8f0000"/><stop offset=".5312" stop-color="#9c0000"/><stop offset=".5625" stop-color="#c50000"/><stop offset=".5938" stop-color="#ff0900"/><stop offset=".625" stop-color="#ff6000"/><stop offset=".6562" stop-color="#ffc400"/><stop offset=".6875" stop-color="#cfff30"/><stop offset=".7188" stop-color="#64ff9b"/><stop offset=".75" stop-color="#0ff"/><stop offset=".7812" stop-color="#00a5ff"/><stop offset=".8125" stop-color="#0059ff"/><stop offset=".8438" stop-color="#001cff"/><stop offset=".875" stop-color="#0000ed"/><stop offset=".9062" stop-color="#00c"/><stop offset=".9375" stop-color="#0000b6"/><stop offset=".9688" stop-color="#00a"/><stop offset="1" stop-color="#0000a6"/></linearGradient><linearGradient id="b14" gradientUnits="userSpaceOnUse" x1="0" x2="0" y1="152" y2="89.25" spreadMethod="reflect"><stop offset="0" stop-color="#0000cb"/><stop offset=".0312" stop-color="#0000ce"/><stop offset=".0625" stop-color="#0000d8"/><stop offset=".0938" stop-color="#0000e9"/><stop offset=".125" stop-color="#0006ff"/><stop offset=".1562" stop-color="#002eff"/><stop offset=".1875" stop-color="#0064ff"/><stop offset=".2188" stop-color="#00a9ff"/><stop offset=".25" stop-color="#00fdff"/><stop offset=".2812" stop-color="#5effa1"/><stop offset=".3125" stop-color="#c5ff3a"/><stop offset=".3438" stop-color="#ffd000"/><stop offset=".375" stop-color="#ff6c00"/><stop offset=".4062" stop-color="#ff1400"/><stop offset=".4375" stop-color="#ce0000"/><stop offset=".4688" stop-color="#a10000"/><stop offset=".5" stop-color="#910000"/><stop offset=".5312" stop-color="#9e0000"/><stop offset=".5625" stop-color="#c80000"/><stop offset=".5938" stop-color="#ff0c00"/><stop offset=".625" stop-color="#ff6300"/><stop offset=".6562" stop-color="#ffc700"/><stop offset=".6875" stop-color="#cf3"/><stop offset=".7188" stop-color="#62ff9d"/><stop offset=".75" stop-color="#00fdff"/><stop offset=".7812" stop-color="#00a4ff"/><stop offset=".8125" stop-color="#0059ff"/><stop offset=".8438" stop-color="#001dff"/><stop offset=".875" stop-color="#00e"/><stop offset=".9062" stop-color="#0000ce"/><stop offset=".9375" stop-color="#0000b9"/><stop offset=".9688" stop-color="#0000ad"/><stop offset="1" stop-color="#0000a9"/></linearGradient><linearGradient id="b15" gradientUnits="userSpaceOnUse" x1="0" x2="0" y1="152" y2="89.25" spreadMethod="reflect"><stop offset="0" stop-color="#0000c8"/><stop offset=".0312" stop-color="#0000cb"/><stop offset=".0625" stop-color="#0000d5"/><stop offset=".0938" stop-color="#0000e6"/><stop offset=".125" stop-color="#0003ff"/><stop offset=".1562" stop-color="#002cff"/><stop offset=".1875" stop-color="#0063ff"/><stop offset=".2188" stop-color="#00a9ff"/><stop offset=".25" stop-color="#00fdff"/><stop offset=".2812" stop-color="#5effa1"/><stop offset=".3125" stop-color="#c6ff39"/><stop offset=".3438" stop-color="#ffcf00"/><stop offset=".375" stop-color="#ff6b00"/><stop offset=".4062" stop-color="#ff1400"/><stop offset=".4375" stop-color="#ce0000"/><stop offset=".4688" stop-color="#a20000"/><stop offset=".5" stop-color="#930000"/><stop offset=".5312" stop-color="#a00000"/><stop offset=".5625" stop-color="#ca0000"/><stop offset=".5938" stop-color="#ff0f00"/><stop offset=".625" stop-color="#f60"/><stop offset=".6562" stop-color="#ffca00"/><stop offset=".6875" stop-color="#c9ff36"/><stop offset=".7188" stop-color="#5fffa0"/><stop offset=".75" stop-color="#00fbff"/><stop offset=".7812" stop-color="#00a3ff"/><stop offset=".8125" stop-color="#0059ff"/><stop offset=".8438" stop-color="#001dff"/><stop offset=".875" stop-color="#0000f0"/><stop offset=".9062" stop-color="#0000d0"/><stop offset=".9375" stop-color="#00b"/><stop offset=".9688" stop-color="#0000b0"/><stop offset="1" stop-color="#0000ac"/></linearGradient><linearGradient id="b16" gradientUnits="userSpaceOnUse" x1="0" x2="0" y1="152" y2="89.25" spreadMethod="reflect"><stop offset="0" stop-color="#0000c4"/><stop offset=".0312" stop-color="#0000c8"/><stop offset=".0625" stop-color="#0000d1"/><stop offset=".0938" stop-color="#0000e4"/><stop offset=".125" stop-color="#0001ff"/><stop offset=".1562" stop-color="#002aff"/><stop offset=".1875" stop-color="#0062ff"/><stop offset=".2188" stop-color="#00a9ff"/><stop offset=".25" stop-color="#00fdff"/><stop offset=".2812" stop-color="#5fffa0"/><stop offset=".3125" stop-color="#c6ff39"/><stop offset=".3438" stop-color="#ffce00"/><stop offset=".375" stop-color="#ff6b00"/><stop offset=".4062" stop-color="#ff1300"/><stop offset=".4375" stop-color="#ce0000"/><stop offset=".4688" stop-color="#a30000"/><stop offset=".5" stop-color="#930000"/><stop offset=".5312" stop-color="#a20000"/><stop offset=".5625" stop-color="#c00"/><stop offset=".5938" stop-color="#f10"/><stop offset=".625" stop-color="#ff6800"/><stop offset=".6562" stop-color="#ffcd00"/><stop offset=".6875" stop-color="#c7ff38"/><stop offset=".7188" stop-color="#5dffa2"/><stop offset=".75" stop-color="#00faff"/><stop offset=".7812" stop-color="#00a2ff"/><stop offset=".8125" stop-color="#0059ff"/><stop offset=".8438" stop-color="#001eff"/><stop offset=".875" stop-color="#0000f1"/><stop offset=".9062" stop-color="#0000d2"/><stop offset=".9375" stop-color="#0000be"/><stop offset=".9688" stop-color="#0000b3"/><stop offset="1" stop-color="#0000af"/></linearGradient><linearGradient id="b17" gradientUnits="userSpaceOnUse" x1="0" x2="0" y1="152" y2="89.25" spreadMethod="reflect"><stop offset="0" stop-color="#0000c1"/><stop offset=".0312" stop-color="#0000c4"/><stop offset=".0625" stop-color="#0000ce"/><stop offset=".0938" stop-color="#0000e1"/><stop offset=".125" stop-color="#0000fe"/><stop offset=".1562" stop-color="#0029ff"/><stop offset=".1875" stop-color="#0061ff"/><stop offset=".2188" stop-color="#00a8ff"/><stop offset=".25" stop-color="#00feff"/><stop offset=".2812" stop-color="#60ff9f"/><stop offset=".3125" stop-color="#c8ff37"/><stop offset=".3438" stop-color="#ffcd00"/><stop offset=".375" stop-color="#ff6900"/><stop offset=".4062" stop-color="#ff1200"/><stop offset=".4375" stop-color="#ce0000"/><stop offset=".4688" stop-color="#a30000"/><stop offset=".5" stop-color="#940000"/><stop offset=".5312" stop-color="#a30000"/><stop offset=".5625" stop-color="#ce0000"/><stop offset=".5938" stop-color="#ff1300"/><stop offset=".625" stop-color="#ff6a00"/><stop offset=".6562" stop-color="#ffcf00"/><stop offset=".6875" stop-color="#c5ff3a"/><stop offset=".7188" stop-color="#5cffa3"/><stop offset=".75" stop-color="#00f8ff"/><stop offset=".7812" stop-color="#00a2ff"/><stop offset=".8125" stop-color="#0059ff"/><stop offset=".8438" stop-color="#001fff"/><stop offset=".875" stop-color="#0000f3"/><stop offset=".9062" stop-color="#0000d4"/><stop offset=".9375" stop-color="#0000c1"/><stop offset=".9688" stop-color="#0000b6"/><stop offset="1" stop-color="#0000b2"/></linearGradient><linearGradient id="b18" gradientUnits="userSpaceOnUse" x1="0" x2="0" y1="152" y2="89.25" spreadMethod="reflect"><stop offset="0" stop-color="#0000bd"/><stop offset=".0312" stop-color="#0000c1"/><stop offset=".0625" stop-color="#0000cb"/><stop offset=".0938" stop-color="#0000de"/><stop offset=".125" stop-color="#0000fc"/><stop offset=".1562" stop-color="#0028ff"/><stop offset=".1875" stop-color="#0061ff"/><stop offset=".2188" stop-color="#00a9ff"/><stop offset=".25" stop-color="#0ff"/><stop offset=".2812" stop-color="#61ff9e"/><stop offset=".3125" stop-color="#c9ff36"/><stop offset=".3438" stop-color="#ffcb00"/><stop offset=".375" stop-color="#ff6800"/><stop offset=".4062" stop-color="#f10"/><stop offset=".4375" stop-color="#c00"/><stop offset=".4688" stop-color="#a20000"/><stop offset=".5" stop-color="#940000"/><stop offset=".5312" stop-color="#a30000"/><stop offset=".5625" stop-color="#cf0000"/><stop offset=".5938" stop-color="#ff1400"/><stop offset=".625" stop-color="#ff6c00"/><stop offset=".6562" stop-color="#ffd100"/><stop offset=".6875" stop-color="#c3ff3c"/><stop offset=".7188" stop-color="#5affa5"/><stop offset=".75" stop-color="#00f8ff"/><stop offset=".7812" stop-color="#00a1ff"/><stop offset=".8125" stop-color="#0059ff"/><stop offset=".8438" stop-color="#0020ff"/><stop offset=".875" stop-color="#0000f4"/><stop offset=".9062" stop-color="#0000d6"/><stop offset=".9375" stop-color="#0000c3"/><stop offset=".9688" stop-color="#0000b9"/><stop offset="1" stop-color="#0000b5"/></linearGradient><linearGradient id="b19" gradientUnits="userSpaceOnUse" x1="0" x2="0" y1="152" y2="89.25" spreadMethod="reflect"><stop offset="0" stop-color="#0000ba"/><stop offset=".0312" stop-color="#0000bd"/><stop offset=".0625" stop-color="#0000c8"/><stop offset=".0938" stop-color="#0000dc"/><stop offset=".125" stop-color="#0000fa"/><stop offset=".1562" stop-color="#0026ff"/><stop offset=".1875" stop-color="#0060ff"/><stop offset=".2188" stop-color="#00a9ff"/><stop offset=".25" stop-color="#01fffe"/><stop offset=".2812" stop-color="#63ff9c"/><stop offset=".3125" stop-color="#cbff34"/><stop offset=".3438" stop-color="#ffc900"/><stop offset=".375" stop-color="#ff6500"/><stop offset=".4062" stop-color="#ff0f00"/><stop offset=".4375" stop-color="#cb0000"/><stop offset=".4688" stop-color="#a10000"/><stop offset=".5" stop-color="#930000"/><stop offset=".5312" stop-color="#a30000"/><stop offset=".5625" stop-color="#cf0000"/><stop offset=".5938" stop-color="#ff1500"/><stop offset=".625" stop-color="#ff6d00"/><stop offset=".6562" stop-color="#ffd200"/><stop offset=".6875" stop-color="#c2ff3d"/><stop offset=".7188" stop-color="#59ffa6"/><stop offset=".75" stop-color="#00f7ff"/><stop offset=".7812" stop-color="#00a1ff"/><stop offset=".8125" stop-color="#005aff"/><stop offset=".8438" stop-color="#0021ff"/><stop offset=".875" stop-color="#0000f6"/><stop offset=".9062" stop-color="#0000d9"/><stop offset=".9375" stop-color="#0000c6"/><stop offset=".9688" stop-color="#0000bc"/><stop offset="1" stop-color="#0000b9"/></linearGradient><linearGradient id="b20" gradientUnits="userSpaceOnUse" x1="0" x2="0" y1="152" y2="89.25" spreadMethod="reflect"><stop offset="0" stop-color="#0000b6"/><stop offset=".0312" stop-color="#0000ba"/><stop offset=".0625" stop-color="#0000c5"/><stop offset=".0938" stop-color="#0000d9"/><stop offset=".125" stop-color="#0000f8"/><stop offset=".1562" stop-color="#0025ff"/><stop offset=".1875" stop-color="#0060ff"/><stop offset=".2188" stop-color="#0af"/><stop offset=".25" stop-color="#02fffd"/><stop offset=".2812" stop-color="#65ff9a"/><stop offset=".3125" stop-color="#ceff31"/><stop offset=".3438" stop-color="#ffc600"/><stop offset=".375" stop-color="#ff6300"/><stop offset=".4062" stop-color="#ff0c00"/><stop offset=".4375" stop-color="#c80000"/><stop offset=".4688" stop-color="#9f0000"/><stop offset=".5" stop-color="#920000"/><stop offset=".5312" stop-color="#a20000"/><stop offset=".5625" stop-color="#cf0000"/><stop offset=".5938" stop-color="#ff1500"/><stop offset=".625" stop-color="#ff6e00"/><stop offset=".6562" stop-color="#ffd300"/><stop offset=".6875" stop-color="#c1ff3e"/><stop offset=".7188" stop-color="#59ffa6"/><stop offset=".75" stop-color="#00f7ff"/><stop offset=".7812" stop-color="#00a1ff"/><stop offset=".8125" stop-color="#005aff"/><stop offset=".8438" stop-color="#02f"/><stop offset=".875" stop-color="#0000f8"/><stop offset=".9062" stop-color="#0000db"/><stop offset=".9375" stop-color="#0000c9"/><stop offset=".9688" stop-color="#0000bf"/><stop offset="1" stop-color="#0000bc"/></linearGradient><linearGradient id="b21" gradientUnits="userSpaceOnUse" x1="0" x2="0" y1="152" y2="89.25" spreadMethod="reflect"><stop offset="0" stop-color="#0000b2"/><stop offset=".0312" stop-color="#0000b6"/><stop offset=".0625" stop-color="#0000c2"/><stop offset=".0938" stop-color="#0000d6"/><stop offset=".125" stop-color="#0000f6"/><stop offset=".1562" stop-color="#0024ff"/><stop offset=".1875" stop-color="#0060ff"/><stop offset=".2188" stop-color="#0af"/><stop offset=".25" stop-color="#04fffb"/><stop offset=".2812" stop-color="#67ff98"/><stop offset=".3125" stop-color="#d0ff2f"/><stop offset=".3438" stop-color="#ffc300"/><stop offset=".375" stop-color="#ff6000"/><stop offset=".4062" stop-color="#ff0900"/><stop offset=".4375" stop-color="#c60000"/><stop offset=".4688" stop-color="#9d0000"/><stop offset=".5" stop-color="#900000"/><stop offset=".5312" stop-color="#a10000"/><stop offset=".5625" stop-color="#ce0000"/><stop offset=".5938" stop-color="#ff1500"/><stop offset=".625" stop-color="#ff6e00"/><stop offset=".6562" stop-color="#ffd300"/><stop offset=".6875" stop-color="#c1ff3e"/><stop offset=".7188" stop-color="#58ffa7"/><stop offset=".75" stop-color="#00f6ff"/><stop offset=".7812" stop-color="#00a2ff"/><stop offset=".8125" stop-color="#005bff"/><stop offset=".8438" stop-color="#0024ff"/><stop offset=".875" stop-color="#0000fa"/><stop offset=".9062" stop-color="#00d"/><stop offset=".9375" stop-color="#0000cb"/><stop offset=".9688" stop-color="#0000c2"/><stop offset="1" stop-color="#0000bf"/></linearGradient><linearGradient id="b22" gradientUnits="userSpaceOnUse" x1="0" x2="0" y1="152" y2="89.25" spreadMethod="reflect"><stop offset="0" stop-color="#0000af"/><stop offset=".0312" stop-color="#0000b3"/><stop offset=".0625" stop-color="#0000bf"/><stop offset=".0938" stop-color="#0000d4"/><stop offset=".125" stop-color="#0000f5"/><stop offset=".1562" stop-color="#0024ff"/><stop offset=".1875" stop-color="#0060ff"/><stop offset=".2188" stop-color="#00abff"/><stop offset=".25" stop-color="#05fffa"/><stop offset=".2812" stop-color="#69ff96"/><stop offset=".3125" stop-color="#d3ff2c"/><stop offset=".3438" stop-color="#ffc000"/><stop offset=".375" stop-color="#ff5c00"/><stop offset=".4062" stop-color="#ff0600"/><stop offset=".4375" stop-color="#c30000"/><stop offset=".4688" stop-color="#9a0000"/><stop offset=".5" stop-color="#8e0000"/><stop offset=".5312" stop-color="#a00000"/><stop offset=".5625" stop-color="#cd0000"/><stop offset=".5938" stop-color="#ff1500"/><stop offset=".625" stop-color="#ff6e00"/><stop offset=".6562" stop-color="#ffd300"/><stop offset=".6875" stop-color="#c1ff3e"/><stop offset=".7188" stop-color="#58ffa7"/><stop offset=".75" stop-color="#00f7ff"/><stop offset=".7812" stop-color="#00a2ff"/><stop offset=".8125" stop-color="#005cff"/><stop offset=".8438" stop-color="#0025ff"/><stop offset=".875" stop-color="#0000fc"/><stop offset=".9062" stop-color="#0000e0"/><stop offset=".9375" stop-color="#0000ce"/><stop offset=".9688" stop-color="#0000c5"/><stop offset="1" stop-color="#0000c2"/></linearGradient><linearGradient id="b23" gradientUnits="userSpaceOnUse" x1="0" x2="0" y1="152" y2="89.25" spreadMethod="reflect"><stop offset="0" stop-color="#0000ac"/><stop offset=".0312" stop-color="#0000b0"/><stop offset=".0625" stop-color="#0000bc"/><stop offset=".0938" stop-color="#0000d2"/><stop offset=".125" stop-color="#0000f3"/><stop offset=".1562" stop-color="#0023ff"/><stop offset=".1875" stop-color="#0060ff"/><stop offset=".2188" stop-color="#00acff"/><stop offset=".25" stop-color="#07fff8"/><stop offset=".2812" stop-color="#6cff93"/><stop offset=".3125" stop-color="#d7ff28"/><stop offset=".3438" stop-color="#ffbc00"/><stop offset=".375" stop-color="#ff5800"/><stop offset=".4062" stop-color="#ff0200"/><stop offset=".4375" stop-color="#bf0000"/><stop offset=".4688" stop-color="#970000"/><stop offset=".5" stop-color="#8b0000"/><stop offset=".5312" stop-color="#9d0000"/><stop offset=".5625" stop-color="#c00"/><stop offset=".5938" stop-color="#ff1400"/><stop offset=".625" stop-color="#ff6d00"/><stop offset=".6562" stop-color="#ffd300"/><stop offset=".6875" stop-color="#c1ff3e"/><stop offset=".7188" stop-color="#58ffa7"/><stop offset=".75" stop-color="#00f7ff"/><stop offset=".7812" stop-color="#00a3ff"/><stop offset=".8125" stop-color="#005dff"/><stop offset=".8438" stop-color="#0026ff"/><stop offset=".875" stop-color="#0000fd"/><stop offset=".9062" stop-color="#0000e2"/><stop offset=".9375" stop-color="#0000d1"/><stop offset=".9688" stop-color="#0000c7"/><stop offset="1" stop-color="#0000c4"/></linearGradient><linearGradient id="b24" gradientUnits="userSpaceOnUse" x1="0" x2="0" y1="152" y2="89.25" spreadMethod="reflect"><stop offset="0" stop-color="#0000a8"/><stop offset=".0312" stop-color="#0000ac"/><stop offset=".0625" stop-color="#0000b9"/><stop offset=".0938" stop-color="#0000d0"/><stop offset=".125" stop-color="#0000f2"/><stop offset=".1562" stop-color="#02f"/><stop offset=".1875" stop-color="#0061ff"/><stop offset=".2188" stop-color="#00aeff"/><stop offset=".25" stop-color="#09fff6"/><stop offset=".2812" stop-color="#6fff90"/><stop offset=".3125" stop-color="#daff25"/><stop offset=".3438" stop-color="#ffb900"/><stop offset=".375" stop-color="#ff5400"/><stop offset=".4062" stop-color="#fd0000"/><stop offset=".4375" stop-color="#b00"/><stop offset=".4688" stop-color="#930000"/><stop offset=".5" stop-color="#800"/><stop offset=".5312" stop-color="#9b0000"/><stop offset=".5625" stop-color="#ca0000"/><stop offset=".5938" stop-color="#ff1200"/><stop offset=".625" stop-color="#ff6c00"/><stop offset=".6562" stop-color="#ffd200"/><stop offset=".6875" stop-color="#c1ff3e"/><stop offset=".7188" stop-color="#59ffa6"/><stop offset=".75" stop-color="#00f8ff"/><stop offset=".7812" stop-color="#00a3ff"/><stop offset=".8125" stop-color="#005eff"/><stop offset=".8438" stop-color="#0028ff"/><stop offset=".875" stop-color="#00f"/><stop offset=".9062" stop-color="#0000e4"/><stop offset=".9375" stop-color="#0000d3"/><stop offset=".9688" stop-color="#0000ca"/><stop offset="1" stop-color="#0000c7"/></linearGradient><linearGradient id="b25" gradientUnits="userSpaceOnUse" x1="0" x2="0" y1="152" y2="89.25" spreadMethod="reflect"><stop offset="0" stop-color="#0000a5"/><stop offset=".0312" stop-color="#00a"/><stop offset=".0625" stop-color="#0000b7"/><stop offset=".0938" stop-color="#0000ce"/><stop offset=".125" stop-color="#0000f0"/><stop offset=".1562" stop-color="#02f"/><stop offset=".1875" stop-color="#0061ff"/><stop offset=".2188" stop-color="#00afff"/><stop offset=".25" stop-color="#0cfff3"/><stop offset=".2812" stop-color="#72ff8d"/><stop offset=".3125" stop-color="#deff21"/><stop offset=".3438" stop-color="#ffb500"/><stop offset=".375" stop-color="#ff5000"/><stop offset=".4062" stop-color="#f90000"/><stop offset=".4375" stop-color="#b80000"/><stop offset=".4688" stop-color="#900000"/><stop offset=".5" stop-color="#850000"/><stop offset=".5312" stop-color="#980000"/><stop offset=".5625" stop-color="#c80000"/><stop offset=".5938" stop-color="#f10"/><stop offset=".625" stop-color="#ff6b00"/><stop offset=".6562" stop-color="#ffd100"/><stop offset=".6875" stop-color="#c2ff3d"/><stop offset=".7188" stop-color="#5affa5"/><stop offset=".75" stop-color="#00f8ff"/><stop offset=".7812" stop-color="#00a4ff"/><stop offset=".8125" stop-color="#005fff"/><stop offset=".8438" stop-color="#0029ff"/><stop offset=".875" stop-color="#0002ff"/><stop offset=".9062" stop-color="#0000e6"/><stop offset=".9375" stop-color="#0000d6"/><stop offset=".9688" stop-color="#0000cd"/><stop offset="1" stop-color="#0000ca"/></linearGradient><linearGradient id="b26" gradientUnits="userSpaceOnUse" x1="0" x2="0" y1="152" y2="89.25" spreadMethod="reflect"><stop offset="0" stop-color="#0000a3"/><stop offset=".0312" stop-color="#0000a7"/><stop offset=".0625" stop-color="#0000b4"/><stop offset=".0938" stop-color="#00c"/><stop offset=".125" stop-color="#0000ef"/><stop offset=".1562" stop-color="#0021ff"/><stop offset=".1875" stop-color="#0062ff"/><stop offset=".2188" stop-color="#00b0ff"/><stop offset=".25" stop-color="#0efff1"/><stop offset=".2812" stop-color="#75ff8a"/><stop offset=".3125" stop-color="#e1ff1e"/><stop offset=".3438" stop-color="#ffb100"/><stop offset=".375" stop-color="#ff4c00"/><stop offset=".4062" stop-color="#f50000"/><stop offset=".4375" stop-color="#b30000"/><stop offset=".4688" stop-color="#8c0000"/><stop offset=".5" stop-color="#820000"/><stop offset=".5312" stop-color="#950000"/><stop offset=".5625" stop-color="#c50000"/><stop offset=".5938" stop-color="#ff0f00"/><stop offset=".625" stop-color="#ff6900"/><stop offset=".6562" stop-color="#ffd000"/><stop offset=".6875" stop-color="#c3ff3c"/><stop offset=".7188" stop-color="#5bffa4"/><stop offset=".75" stop-color="#00f9ff"/><stop offset=".7812" stop-color="#00a5ff"/><stop offset=".8125" stop-color="#0061ff"/><stop offset=".8438" stop-color="#002bff"/><stop offset=".875" stop-color="#0004ff"/><stop offset=".9062" stop-color="#0000e8"/><stop offset=".9375" stop-color="#0000d8"/><stop offset=".9688" stop-color="#0000cf"/><stop offset="1" stop-color="#00c"/></linearGradient><linearGradient id="b27" gradientUnits="userSpaceOnUse" x1="0" x2="0" y1="152" y2="89.25" spreadMethod="reflect"><stop offset="0" stop-color="#0000a0"/><stop offset=".0312" stop-color="#0000a4"/><stop offset=".0625" stop-color="#0000b2"/><stop offset=".0938" stop-color="#0000ca"/><stop offset=".125" stop-color="#00e"/><stop offset=".1562" stop-color="#0021ff"/><stop offset=".1875" stop-color="#0062ff"/><stop offset=".2188" stop-color="#00b2ff"/><stop offset=".25" stop-color="#10ffef"/><stop offset=".2812" stop-color="#78ff87"/><stop offset=".3125" stop-color="#e5ff1a"/><stop offset=".3438" stop-color="#ffad00"/><stop offset=".375" stop-color="#ff4800"/><stop offset=".4062" stop-color="#f10000"/><stop offset=".4375" stop-color="#af0000"/><stop offset=".4688" stop-color="#800"/><stop offset=".5" stop-color="#800000"/><stop offset=".5312" stop-color="#930000"/><stop offset=".5625" stop-color="#c30000"/><stop offset=".5938" stop-color="#ff0d00"/><stop offset=".625" stop-color="#ff6800"/><stop offset=".6562" stop-color="#ffcf00"/><stop offset=".6875" stop-color="#c4ff3b"/><stop offset=".7188" stop-color="#5cffa3"/><stop offset=".75" stop-color="#00faff"/><stop offset=".7812" stop-color="#00a7ff"/><stop offset=".8125" stop-color="#0062ff"/><stop offset=".8438" stop-color="#002cff"/><stop offset=".875" stop-color="#0006ff"/><stop offset=".9062" stop-color="#0000ea"/><stop offset=".9375" stop-color="#0000da"/><stop offset=".9688" stop-color="#0000d1"/><stop offset="1" stop-color="#0000ce"/></linearGradient><linearGradient id="b28" gradientUnits="userSpaceOnUse" x1="0" x2="0" y1="152" y2="89.25" spreadMethod="reflect"><stop offset="0" stop-color="#00009d"/><stop offset=".0312" stop-color="#0000a2"/><stop offset=".0625" stop-color="#0000b0"/><stop offset=".0938" stop-color="#0000c8"/><stop offset=".125" stop-color="#0000ed"/><stop offset=".1562" stop-color="#0021ff"/><stop offset=".1875" stop-color="#0063ff"/><stop offset=".2188" stop-color="#00b3ff"/><stop offset=".25" stop-color="#12ffed"/><stop offset=".2812" stop-color="#7aff85"/><stop offset=".3125" stop-color="#e8ff17"/><stop offset=".3438" stop-color="#ffa900"/><stop offset=".375" stop-color="#f40"/><stop offset=".4062" stop-color="#ed0000"/><stop offset=".4375" stop-color="#ab0000"/><stop offset=".4688" stop-color="#850000"/><stop offset=".5" stop-color="#800000"/><stop offset=".5312" stop-color="#900000"/><stop offset=".5625" stop-color="#c00000"/><stop offset=".5938" stop-color="#ff0a00"/><stop offset=".625" stop-color="#f60"/><stop offset=".6562" stop-color="#ffcd00"/><stop offset=".6875" stop-color="#c5ff3a"/><stop offset=".7188" stop-color="#5dffa2"/><stop offset=".75" stop-color="#00fbff"/><stop offset=".7812" stop-color="#00a8ff"/><stop offset=".8125" stop-color="#0063ff"/><stop offset=".8438" stop-color="#002eff"/><stop offset=".875" stop-color="#0007ff"/><stop offset=".9062" stop-color="#0000ec"/><stop offset=".9375" stop-color="#0000dc"/><stop offset=".9688" stop-color="#0000d3"/><stop offset="1" stop-color="#0000d0"/></linearGradient><linearGradient id="b29" gradientUnits="userSpaceOnUse" x1="0" x2="0" y1="152" y2="89.25" spreadMethod="reflect"><stop offset="0" stop-color="#00009b"/><stop offset=".0312" stop-color="#0000a0"/><stop offset=".0625" stop-color="#0000ae"/><stop offset=".0938" stop-color="#0000c7"/><stop offset=".125" stop-color="#0000ed"/><stop offset=".1562" stop-color="#0021ff"/><stop offset=".1875" stop-color="#0063ff"/><stop offset=".2188" stop-color="#00b5ff"/><stop offset=".25" stop-color="#14ffeb"/><stop offset=".2812" stop-color="#7dff82"/><stop offset=".3125" stop-color="#ebff14"/><stop offset=".3438" stop-color="#ffa600"/><stop offset=".375" stop-color="#ff4000"/><stop offset=".4062" stop-color="#e90000"/><stop offset=".4375" stop-color="#a80000"/><stop offset=".4688" stop-color="#810000"/><stop offset=".5" stop-color="#800000"/><stop offset=".5312" stop-color="#8d0000"/><stop offset=".5625" stop-color="#be0000"/><stop offset=".5938" stop-color="#ff0800"/><stop offset=".625" stop-color="#ff6400"/><stop offset=".6562" stop-color="#fc0"/><stop offset=".6875" stop-color="#c7ff38"/><stop offset=".7188" stop-color="#5effa1"/><stop offset=".75" stop-color="#00fcff"/><stop offset=".7812" stop-color="#00a9ff"/><stop offset=".8125" stop-color="#0064ff"/><stop offset=".8438" stop-color="#002fff"/><stop offset=".875" stop-color="#0009ff"/><stop offset=".9062" stop-color="#00e"/><stop offset=".9375" stop-color="#0000de"/><stop offset=".9688" stop-color="#0000d5"/><stop offset="1" stop-color="#0000d2"/></linearGradient><linearGradient id="b30" gradientUnits="userSpaceOnUse" x1="0" x2="0" y1="152" y2="89.25" spreadMethod="reflect"><stop offset="0" stop-color="#009"/><stop offset=".0312" stop-color="#00009e"/><stop offset=".0625" stop-color="#0000ad"/><stop offset=".0938" stop-color="#0000c6"/><stop offset=".125" stop-color="#0000ec"/><stop offset=".1562" stop-color="#0021ff"/><stop offset=".1875" stop-color="#0064ff"/><stop offset=".2188" stop-color="#00b6ff"/><stop offset=".25" stop-color="#16ffe9"/><stop offset=".2812" stop-color="#80ff7f"/><stop offset=".3125" stop-color="#ef1"/><stop offset=".3438" stop-color="#ffa200"/><stop offset=".375" stop-color="#ff3d00"/><stop offset=".4062" stop-color="#e50000"/><stop offset=".4375" stop-color="#a40000"/><stop offset=".4688" stop-color="#800000"/><stop offset=".5" stop-color="#800000"/><stop offset=".5312" stop-color="#8a0000"/><stop offset=".5625" stop-color="#b00"/><stop offset=".5938" stop-color="#ff0600"/><stop offset=".625" stop-color="#ff6300"/><stop offset=".6562" stop-color="#ffca00"/><stop offset=".6875" stop-color="#c8ff37"/><stop offset=".7188" stop-color="#5fffa0"/><stop offset=".75" stop-color="#00fdff"/><stop offset=".7812" stop-color="#0af"/><stop offset=".8125" stop-color="#0065ff"/><stop offset=".8438" stop-color="#0030ff"/><stop offset=".875" stop-color="#000aff"/><stop offset=".9062" stop-color="#0000ef"/><stop offset=".9375" stop-color="#0000df"/><stop offset=".9688" stop-color="#0000d7"/><stop offset="1" stop-color="#0000d4"/></linearGradient><linearGradient id="b31" gradientUnits="userSpaceOnUse" x1="0" x2="0" y1="152" y2="89.25" spreadMethod="reflect"><stop offset="0" stop-color="#000098"/><stop offset=".0312" stop-color="#00009c"/><stop offset=".0625" stop-color="#0000ab"/><stop offset=".0938" stop-color="#0000c5"/><stop offset=".125" stop-color="#0000eb"/><stop offset=".1562" stop-color="#0021ff"/><stop offset=".1875" stop-color="#0065ff"/><stop offset=".2188" stop-color="#00b7ff"/><stop offset=".25" stop-color="#18ffe7"/><stop offset=".2812" stop-color="#82ff7d"/><stop offset=".3125" stop-color="#f1ff0e"/><stop offset=".3438" stop-color="#ff9f00"/><stop offset=".375" stop-color="#ff3a00"/><stop offset=".4062" stop-color="#e20000"/><stop offset=".4375" stop-color="#a10000"/><stop offset=".4688" stop-color="#800000"/><stop offset=".5" stop-color="#800000"/><stop offset=".5312" stop-color="#870000"/><stop offset=".5625" stop-color="#b90000"/><stop offset=".5938" stop-color="#ff0500"/><stop offset=".625" stop-color="#ff6100"/><stop offset=".6562" stop-color="#ffc900"/><stop offset=".6875" stop-color="#c9ff36"/><stop offset=".7188" stop-color="#60ff9f"/><stop offset=".75" stop-color="#00feff"/><stop offset=".7812" stop-color="#00abff"/><stop offset=".8125" stop-color="#06f"/><stop offset=".8438" stop-color="#0031ff"/><stop offset=".875" stop-color="#000bff"/><stop offset=".9062" stop-color="#0000f0"/><stop offset=".9375" stop-color="#0000e0"/><stop offset=".9688" stop-color="#0000d8"/><stop offset="1" stop-color="#0000d5"/></linearGradient><linearGradient id="b32" gradientUnits="userSpaceOnUse" x1="0" x2="0" y1="152" y2="89.25" spreadMethod="reflect"><stop offset="0" stop-color="#000096"/><stop offset=".0312" stop-color="#00009b"/><stop offset=".0625" stop-color="#00a"/><stop offset=".0938" stop-color="#0000c4"/><stop offset=".125" stop-color="#0000eb"/><stop offset=".1562" stop-color="#0021ff"/><stop offset=".1875" stop-color="#0065ff"/><stop offset=".2188" stop-color="#00b8ff"/><stop offset=".25" stop-color="#19ffe6"/><stop offset=".2812" stop-color="#84ff7b"/><stop offset=".3125" stop-color="#f3ff0c"/><stop offset=".3438" stop-color="#ff9d00"/><stop offset=".375" stop-color="#ff3700"/><stop offset=".4062" stop-color="#df0000"/><stop offset=".4375" stop-color="#9e0000"/><stop offset=".4688" stop-color="#800000"/><stop offset=".5" stop-color="#800000"/><stop offset=".5312" stop-color="#850000"/><stop offset=".5625" stop-color="#b70000"/><stop offset=".5938" stop-color="#ff0300"/><stop offset=".625" stop-color="#ff6000"/><stop offset=".6562" stop-color="#ffc800"/><stop offset=".6875" stop-color="#caff35"/><stop offset=".7188" stop-color="#61ff9e"/><stop offset=".75" stop-color="#0ff"/><stop offset=".7812" stop-color="#00abff"/><stop offset=".8125" stop-color="#0067ff"/><stop offset=".8438" stop-color="#0032ff"/><stop offset=".875" stop-color="#000cff"/><stop offset=".9062" stop-color="#0000f1"/><stop offset=".9375" stop-color="#0000e2"/><stop offset=".9688" stop-color="#0000d9"/><stop offset="1" stop-color="#0000d7"/></linearGradient><linearGradient id="b33" gradientUnits="userSpaceOnUse" x1="0" x2="0" y1="152" y2="89.25" spreadMethod="reflect"><stop offset="0" stop-color="#000095"/><stop offset=".0312" stop-color="#00009a"/><stop offset=".0625" stop-color="#0000a9"/><stop offset=".0938" stop-color="#0000c3"/><stop offset=".125" stop-color="#0000eb"/><stop offset=".1562" stop-color="#0021ff"/><stop offset=".1875" stop-color="#0065ff"/><stop offset=".2188" stop-color="#00b9ff"/><stop offset=".25" stop-color="#1bffe4"/><stop offset=".2812" stop-color="#85ff7a"/><stop offset=".3125" stop-color="#f5ff0a"/><stop offset=".3438" stop-color="#ff9b00"/><stop offset=".375" stop-color="#ff3500"/><stop offset=".4062" stop-color="#d00"/><stop offset=".4375" stop-color="#9c0000"/><stop offset=".4688" stop-color="#800000"/><stop offset=".5" stop-color="#800000"/><stop offset=".5312" stop-color="#840000"/><stop offset=".5625" stop-color="#b60000"/><stop offset=".5938" stop-color="#ff0200"/><stop offset=".625" stop-color="#ff5f00"/><stop offset=".6562" stop-color="#ffc700"/><stop offset=".6875" stop-color="#cbff34"/><stop offset=".7188" stop-color="#61ff9e"/><stop offset=".75" stop-color="#01fffe"/><stop offset=".7812" stop-color="#00acff"/><stop offset=".8125" stop-color="#0068ff"/><stop offset=".8438" stop-color="#03f"/><stop offset=".875" stop-color="#000dff"/><stop offset=".9062" stop-color="#0000f2"/><stop offset=".9375" stop-color="#0000e2"/><stop offset=".9688" stop-color="#0000da"/><stop offset="1" stop-color="#0000d7"/></linearGradient><linearGradient id="b34" gradientUnits="userSpaceOnUse" x1="0" x2="0" y1="152" y2="89.25" spreadMethod="reflect"><stop offset="0" stop-color="#000094"/><stop offset=".0312" stop-color="#009"/><stop offset=".0625" stop-color="#0000a8"/><stop offset=".0938" stop-color="#0000c3"/><stop offset=".125" stop-color="#0000ea"/><stop offset=".1562" stop-color="#0021ff"/><stop offset=".1875" stop-color="#06f"/><stop offset=".2188" stop-color="#00b9ff"/><stop offset=".25" stop-color="#1bffe4"/><stop offset=".2812" stop-color="#86ff79"/><stop offset=".3125" stop-color="#f6ff09"/><stop offset=".3438" stop-color="#f90"/><stop offset=".375" stop-color="#f30"/><stop offset=".4062" stop-color="#dc0000"/><stop offset=".4375" stop-color="#9b0000"/><stop offset=".4688" stop-color="#800000"/><stop offset=".5" stop-color="#800000"/><stop offset=".5312" stop-color="#820000"/><stop offset=".5625" stop-color="#b50000"/><stop offset=".5938" stop-color="#ff0100"/><stop offset=".625" stop-color="#ff5e00"/><stop offset=".6562" stop-color="#ffc600"/><stop offset=".6875" stop-color="#cbff34"/><stop offset=".7188" stop-color="#62ff9d"/><stop offset=".75" stop-color="#01fffe"/><stop offset=".7812" stop-color="#00adff"/><stop offset=".8125" stop-color="#0068ff"/><stop offset=".8438" stop-color="#0034ff"/><stop offset=".875" stop-color="#000dff"/><stop offset=".9062" stop-color="#0000f3"/><stop offset=".9375" stop-color="#0000e3"/><stop offset=".9688" stop-color="#0000db"/><stop offset="1" stop-color="#0000d8"/></linearGradient><linearGradient id="b35" gradientUnits="userSpaceOnUse" x1="0" x2="0" y1="152" y2="89.25" spreadMethod="reflect"><stop offset="0" stop-color="#000094"/><stop offset=".0312" stop-color="#009"/><stop offset=".0625" stop-color="#0000a8"/><stop offset=".0938" stop-color="#0000c3"/><stop offset=".125" stop-color="#0000ea"/><stop offset=".1562" stop-color="#0021ff"/><stop offset=".1875" stop-color="#06f"/><stop offset=".2188" stop-color="#00baff"/><stop offset=".25" stop-color="#1cffe3"/><stop offset=".2812" stop-color="#87ff78"/><stop offset=".3125" stop-color="#f7ff08"/><stop offset=".3438" stop-color="#f90"/><stop offset=".375" stop-color="#ff3200"/><stop offset=".4062" stop-color="#db0000"/><stop offset=".4375" stop-color="#9a0000"/><stop offset=".4688" stop-color="#800000"/><stop offset=".5" stop-color="#800000"/><stop offset=".5312" stop-color="#820000"/><stop offset=".5625" stop-color="#b40000"/><stop offset=".5938" stop-color="#f00"/><stop offset=".625" stop-color="#ff5d00"/><stop offset=".6562" stop-color="#ffc600"/><stop offset=".6875" stop-color="#cf3"/><stop offset=".7188" stop-color="#62ff9d"/><stop offset=".75" stop-color="#01fffe"/><stop offset=".7812" stop-color="#00adff"/><stop offset=".8125" stop-color="#0068ff"/><stop offset=".8438" stop-color="#0034ff"/><stop offset=".875" stop-color="#000eff"/><stop offset=".9062" stop-color="#0000f3"/><stop offset=".9375" stop-color="#0000e3"/><stop offset=".9688" stop-color="#0000db"/><stop offset="1" stop-color="#0000d9"/></linearGradient><linearGradient id="b36" gradientUnits="userSpaceOnUse" x1="0" x2="0" y1="152" y2="89.25" spreadMethod="reflect"><stop offset="0" stop-color="#000094"/><stop offset=".0312" stop-color="#009"/><stop offset=".0625" stop-color="#0000a8"/><stop offset=".0938" stop-color="#0000c3"/><stop offset=".125" stop-color="#0000ea"/><stop offset=".1562" stop-color="#0021ff"/><stop offset=".1875" stop-color="#06f"/><stop offset=".2188" stop-color="#00baff"/><stop offset=".25" stop-color="#1cffe3"/><stop offset=".2812" stop-color="#87ff78"/><stop offset=".3125" stop-color="#f7ff08"/><stop offset=".3438" stop-color="#ff9800"/><stop offset=".375" stop-color="#ff3200"/><stop offset=".4062" stop-color="#da0000"/><stop offset=".4375" stop-color="#900"/><stop offset=".4688" stop-color="#800000"/><stop offset=".5" stop-color="#800000"/><stop offset=".5312" stop-color="#810000"/><stop offset=".5625" stop-color="#b40000"/><stop offset=".5938" stop-color="#f00"/><stop offset=".625" stop-color="#ff5d00"/><stop offset=".6562" stop-color="#ffc600"/><stop offset=".6875" stop-color="#cf3"/><stop offset=".7188" stop-color="#62ff9d"/><stop offset=".75" stop-color="#02fffd"/><stop offset=".7812" stop-color="#00adff"/><stop offset=".8125" stop-color="#0069ff"/><stop offset=".8438" stop-color="#0034ff"/><stop offset=".875" stop-color="#000eff"/><stop offset=".9062" stop-color="#0000f3"/><stop offset=".9375" stop-color="#0000e4"/><stop offset=".9688" stop-color="#0000db"/><stop offset="1" stop-color="#0000d9"/></linearGradient></defs>
<g clip-path="url(#clb)"><g shape-rendering="crispEdges"><rect x="319" y="26" width="1" height="252" fill="url(#b0)"/><rect x="320" y="26" width="1" height="252" fill="url(#b1)"/><rect x="321" y="26" width="1" height="252" fill="url(#b2)"/><rect x="322" y="26" width="1" height="252" fill="url(#b3)"/><rect x="323" y="26" width="1" height="252" fill="url(#b4)"/><rect x="324" y="26" width="1" height="252" fill="url(#b5)"/><rect x="325" y="26" width="1" height="252" fill="url(#b6)"/><rect x="326" y="26" width="1" height="252" fill="url(#b7)"/><rect x="327" y="26" width="1" height="252" fill="url(#b8)"/><rect x="328" y="26" width="1" height="252" fill="url(#b9)"/><rect x="329" y="26" width="1" height="252" fill="url(#b10)"/><rect x="330" y="26" width="1" height="252" fill="url(#b11)"/><rect x="331" y="26" width="1" height="252" fill="url(#b12)"/><rect x="332" y="26" width="1" height="252" fill="url(#b13)"/><rect x="333" y="26" width="1" height="252" fill="url(#b14)"/><rect x="334" y="26" width="1" height="252" fill="url(#b15)"/><rect x="335" y="26" width="1" height="252" fill="url(#b16)"/><rect x="336" y="26" width="1" height="252" fill="url(#b17)"/><rect x="337" y="26" width="1" height="252" fill="url(#b18)"/><rect x="338" y="26" width="1" height="252" fill="url(#b19)"/><rect x="339" y="26" width="1" height="252" fill="url(#b20)"/><rect x="340" y="26" width="1" height="252" fill="url(#b21)"/><rect x="341" y="26" width="1" height="252" fill="url(#b22)"/><rect x="342" y="26" width="1" height="252" fill="url(#b23)"/><rect x="343" y="26" width="1" height="252" fill="url(#b24)"/><rect x="344" y="26" width="1" height="252" fill="url(#b25)"/><rect x="345" y="26" width="1" height="252" fill="url(#b26)"/><rect x="346" y="26" width="1" height="252" fill="url(#b27)"/><rect x="347" y="26" width="1" height="252" fill="url(#b28)"/><rect x="348" y="26" width="1" height="252" fill="url(#b29)"/><rect x="349" y="26" width="1" height="252" fill="url(#b30)"/><rect x="350" y="26" width="1" height="252" fill="url(#b31)"/><rect x="351" y="26" width="1" height="252" fill="url(#b32)"/><rect x="352" y="26" width="1" height="252" fill="url(#b33)"/><rect x="353" y="26" width="1" height="252" fill="url(#b34)"/><rect x="354" y="26" width="1" height="252" fill="url(#b35)"/><rect x="355" y="26" width="1" height="252" fill="url(#b36)"/><rect x="356" y="26" width="1" height="252" fill="url(#b35)"/><rect x="357" y="26" width="1" height="252" fill="url(#b34)"/><rect x="358" y="26" width="1" height="252" fill="url(#b33)"/><rect x="359" y="26" width="1" height="252" fill="url(#b32)"/><rect x="360" y="26" width="1" height="252" fill="url(#b31)"/><rect x="361" y="26" width="1" height="252" fill="url(#b30)"/><rect x="362" y="26" width="1" height="252" fill="url(#b29)"/><rect x="363" y="26" width="1" height="252" fill="url(#b28)"/><rect x="364" y="26" width="1" height="252" fill="url(#b27)"/><rect x="365" y="26" width="1" height="252" fill="url(#b26)"/><rect x="366" y="26" width="1" height="252" fill="url(#b25)"/><rect x="367" y="26" width="1" height="252" fill="url(#b24)"/><rect x="368" y="26" width="1" height="252" fill="url(#b23)"/><rect x="369" y="26" width="1" height="252" fill="url(#b22)"/><rect x="370" y="26" width="1" height="252" fill="url(#b21)"/><rect x="371" y="26" width="1" height="252" fill="url(#b20)"/><rect x="372" y="26" width="1" height="252" fill="url(#b19)"/><rect x="373" y="26" width="1" height="252" fill="url(#b18)"/><rect x="374" y="26" width="1" height="252" fill="url(#b17)"/><rect x="375" y="26" width="1" height="252" fill="url(#b16)"/><rect x="376" y="26" width="1" height="252" fill="url(#b15)"/><rect x="377" y="26" width="1" height="252" fill="url(#b14)"/><rect x="378" y="26" width="1" height="252" fill="url(#b13)"/><rect x="379" y="26" width="1" height="252" fill="url(#b12)"/><rect x="380" y="26" width="1" height="252" fill="url(#b11)"/><rect x="381" y="26" width="1" height="252" fill="url(#b10)"/><rect x="382" y="26" width="1" height="252" fill="url(#b9)"/><rect x="383" y="26" width="1" height="252" fill="url(#b8)"/><rect x="384" y="26" width="1" height="252" fill="url(#b7)"/><rect x="385" y="26" width="1" height="252" fill="url(#b6)"/><rect x="386" y="26" width="1" height="252" fill="url(#b5)"/><rect x="387" y="26" width="1" height="252" fill="url(#b4)"/><rect x="388" y="26" width="1" height="252" fill="url(#b3)"/><rect x="389" y="26" width="1" height="252" fill="url(#b2)"/><rect x="390" y="26" width="1" height="252" fill="url(#b1)"/><rect x="391" y="26" width="1" height="252" fill="url(#b0)"/><rect x="392" y="26" width="1" height="252" fill="url(#b0)"/><rect x="393" y="26" width="1" height="252" fill="url(#b1)"/><rect x="394" y="26" width="1" height="252" fill="url(#b2)"/><rect x="395" y="26" width="1" height="252" fill="url(#b3)"/><rect x="396" y="26" width="1" height="252" fill="url(#b4)"/><rect x="397" y="26" width="1" height="252" fill="url(#b5)"/><rect x="398" y="26" width="1" height="252" fill="url(#b6)"/><rect x="399" y="26" width="1" height="252" fill="url(#b7)"/><rect x="400" y="26" width="1" height="252" fill="url(#b8)"/><rect x="401" y="26" width="1" height="252" fill="url(#b9)"/><rect x="402" y="26" width="1" height="252" fill="url(#b10)"/><rect x="403" y="26" width="1" height="252" fill="url(#b11)"/><rect x="404" y="26" width="1" height="252" fill="url(#b12)"/><rect x="405" y="26" width="1" height="252" fill="url(#b13)"/><rect x="406" y="26" width="1" height="252" fill="url(#b14)"/><rect x="407" y="26" width="1" height="252" fill="url(#b15)"/><rect x="408" y="26" width="1" height="252" fill="url(#b16)"/><rect x="409" y="26" width="1" height="252" fill="url(#b17)"/><rect x="410" y="26" width="1" height="252" fill="url(#b18)"/><rect x="411" y="26" width="1" height="252" fill="url(#b19)"/><rect x="412" y="26" width="1" height="252" fill="url(#b20)"/><rect x="413" y="26" width="1" height="252" fill="url(#b21)"/><rect x="414" y="26" width="1" height="252" fill="url(#b22)"/><rect x="415" y="26" width="1" height="252" fill="url(#b23)"/><rect x="416" y="26" width="1" height="252" fill="url(#b24)"/><rect x="417" y="26" width="1" height="252" fill="url(#b25)"/><rect x="418" y="26" width="1" height="252" fill="url(#b26)"/><rect x="419" y="26" width="1" height="252" fill="url(#b27)"/><rect x="420" y="26" width="1" height="252" fill="url(#b28)"/><rect x="421" y="26" width="1" height="252" fill="url(#b29)"/><rect x="422" y="26" width="1" height="252" fill="url(#b30)"/><rect x="423" y="26" width="1" height="252" fill="url(#b31)"/><rect x="424" y="26" width="1" height="252" fill="url(#b32)"/><rect x="425" y="26" width="1" height="252" fill="url(#b33)"/><rect x="426" y="26" width="1" height="252" fill="url(#b34)"/><rect x="427" y="26" width="1" height="252" fill="url(#b35)"/><rect x="428" y="26" width="1" height="252" fill="url(#b36)"/><rect x="429" y="26" width="1" height="252" fill="url(#b35)"/><rect x="430" y="26" width="1" height="252" fill="url(#b34)"/><rect x="431" y="26" width="1" height="252" fill="url(#b33)"/><rect x="432" y="26" width="1" height="252" fill="url(#b32)"/><rect x="433" y="26" width="1" height="252" fill="url(#b31)"/><rect x="434" y="26" width="1" height="252" fill="url(#b30)"/><rect x="435" y="26" width="1" height="252" fill="url(#b29)"/><rect x="436" y="26" width="1" height="252" fill="url(#b28)"/><rect x="437" y="26" width="1" height="252" fill="url(#b27)"/><rect x="438" y="26" width="1" height="252" fill="url(#b26)"/><rect x="439" y="26" width="1" height="252" fill="url(#b25)"/><rect x="440" y="26" width="1" height="252" fill="url(#b24)"/><rect x="441" y="26" width="1" height="252" fill="url(#b23)"/><rect x="442" y="26" width="1" height="252" fill="url(#b22)"/><rect x="443" y="26" width="1" height="252" fill="url(#b21)"/><rect x="444" y="26" width="1" height="252" fill="url(#b20)"/><rect x="445" y="26" width="1" height="252" fill="url(#b19)"/><rect x="446" y="26" width="1" height="252" fill="url(#b18)"/><rect x="447" y="26" width="1" height="252" fill="url(#b17)"/><rect x="448" y="26" width="1" height="252" fill="url(#b16)"/><rect x="449" y="26" width="1" height="252" fill="url(#b15)"/><rect x="450" y="26" width="1" height="252" fill="url(#b14)"/><rect x="451" y="26" width="1" height="252" fill="url(#b13)"/><rect x="452" y="26" width="1" height="252" fill="url(#b12)"/><rect x="453" y="26" width="1" height="252" fill="url(#b11)"/><rect x="454" y="26" width="1" height="252" fill="url(#b10)"/><rect x="455" y="26" width="1" height="252" fill="url(#b9)"/><rect x="456" y="26" width="1" height="252" fill="url(#b8)"/><rect x="457" y="26" width="1" height="252" fill="url(#b7)"/><rect x="458" y="26" width="1" height="252" fill="url(#b6)"/><rect x="459" y="26" width="1" height="252" fill="url(#b5)"/><rect x="460" y="26" width="1" height="252" fill="url(#b4)"/><rect x="461" y="26" width="1" height="252" fill="url(#b3)"/><rect x="462" y="26" width="1" height="252" fill="url(#b2)"/><rect x="463" y="26" width="1" height="252" fill="url(#b1)"/><rect x="464" y="26" width="1" height="252" fill="url(#b0)"/></g></g>
<linearGradient id="cbb" x1="0" x2="0" y1="0" y2="1"><stop offset="0" stop-color="#800000"/><stop offset="0.125" stop-color="#f00"/><stop offset="0.375" stop-color="#ff0"/><stop offset="0.625" stop-color="#0ff"/><stop offset="0.875" stop-color="#00f"/><stop offset="1" stop-color="#000080"/></linearGradient><rect x="476" y="27" width="15" height="251.3" fill="url(#cbb)"/><path d="M476 51.9h1.6M491 51.9h-1.6" stroke="#400" stroke-opacity="0.55" stroke-width="0.6" fill="none"/><path d="M476 90.56h1.6M491 90.56h-1.6" stroke="#400" stroke-opacity="0.55" stroke-width="0.6" fill="none"/><path d="M476 129.22h1.6M491 129.22h-1.6" stroke="#400" stroke-opacity="0.55" stroke-width="0.6" fill="none"/><path d="M476 167.88h1.6M491 167.88h-1.6" stroke="#400" stroke-opacity="0.55" stroke-width="0.6" fill="none"/><path d="M476 206.54h1.6M491 206.54h-1.6" stroke="#400" stroke-opacity="0.55" stroke-width="0.6" fill="none"/><path d="M476 245.2h1.6M491 245.2h-1.6" stroke="#400" stroke-opacity="0.55" stroke-width="0.6" fill="none"/>
<g font-family="'Liberation Sans',sans-serif" fill="#000" stroke="#000" stroke-width="0.3"><text x="342.9" y="18.8" font-size="14.8"><tspan font-style="italic">H</tspan><tspan font-size="11.3" dy="3.6">bias</tspan><tspan dy="-3.6"> = 25 kA/m</tspan></text><text x="313.7" y="31.9" font-size="14" text-anchor="end"><tspan font-style="italic">b</tspan></text><text x="316.6" y="94.1" font-size="14" text-anchor="end"><tspan font-style="italic">b</tspan>/2</text><text x="316.6" y="157.9" font-size="14" text-anchor="end">0</text><text x="316.6" y="220.5" font-size="14" text-anchor="end">-<tspan font-style="italic">b</tspan>/2</text><text x="313.8" y="281.8" font-size="14" text-anchor="end">-<tspan font-style="italic">b</tspan></text><text x="317.2" y="294.6" font-size="14.6" text-anchor="middle">-<tspan font-style="italic">a</tspan></text><text x="352.7" y="294.6" font-size="14.6" text-anchor="middle">-<tspan font-style="italic">a</tspan>/2</text><text x="392.5" y="294.6" font-size="14" text-anchor="middle">0</text><text x="428.9" y="294.5" font-size="14.6" text-anchor="middle"><tspan font-style="italic">a</tspan>/2</text><text x="464.4" y="292.1" font-size="14.6" text-anchor="middle"><tspan font-style="italic">a</tspan></text><text x="392.1" y="307.5" font-size="13.8" font-style="italic" text-anchor="middle">x</text><text transform="translate(294.9 151.2) rotate(-90) scale(1 1.25)" font-size="13.6" font-style="italic" text-anchor="middle">y</text><text x="493" y="58.35" font-size="16">30</text><text x="493" y="97.01" font-size="16">20</text><text x="493" y="135.67" font-size="16">10</text><text x="493" y="174.33" font-size="16">0</text><text x="493" y="212.99" font-size="16">-10</text><text x="493" y="251.65" font-size="16">-20</text><text transform="translate(536 199.8) rotate(-90)" font-size="17"><tspan x="0" font-size="14.8" font-style="italic">F</tspan><tspan x="5.2" dy="7.4" font-size="12.7">mag,z</tspan><tspan x="41.9" dy="-7.4" font-size="17.4" letter-spacing="0.15">(pN)</tspan></text><text x="504" y="309.6" font-size="19.2" stroke="none" font-family="'DejaVu Serif','Liberation Serif',serif">(b)</text></g></svg>
</body></html>
